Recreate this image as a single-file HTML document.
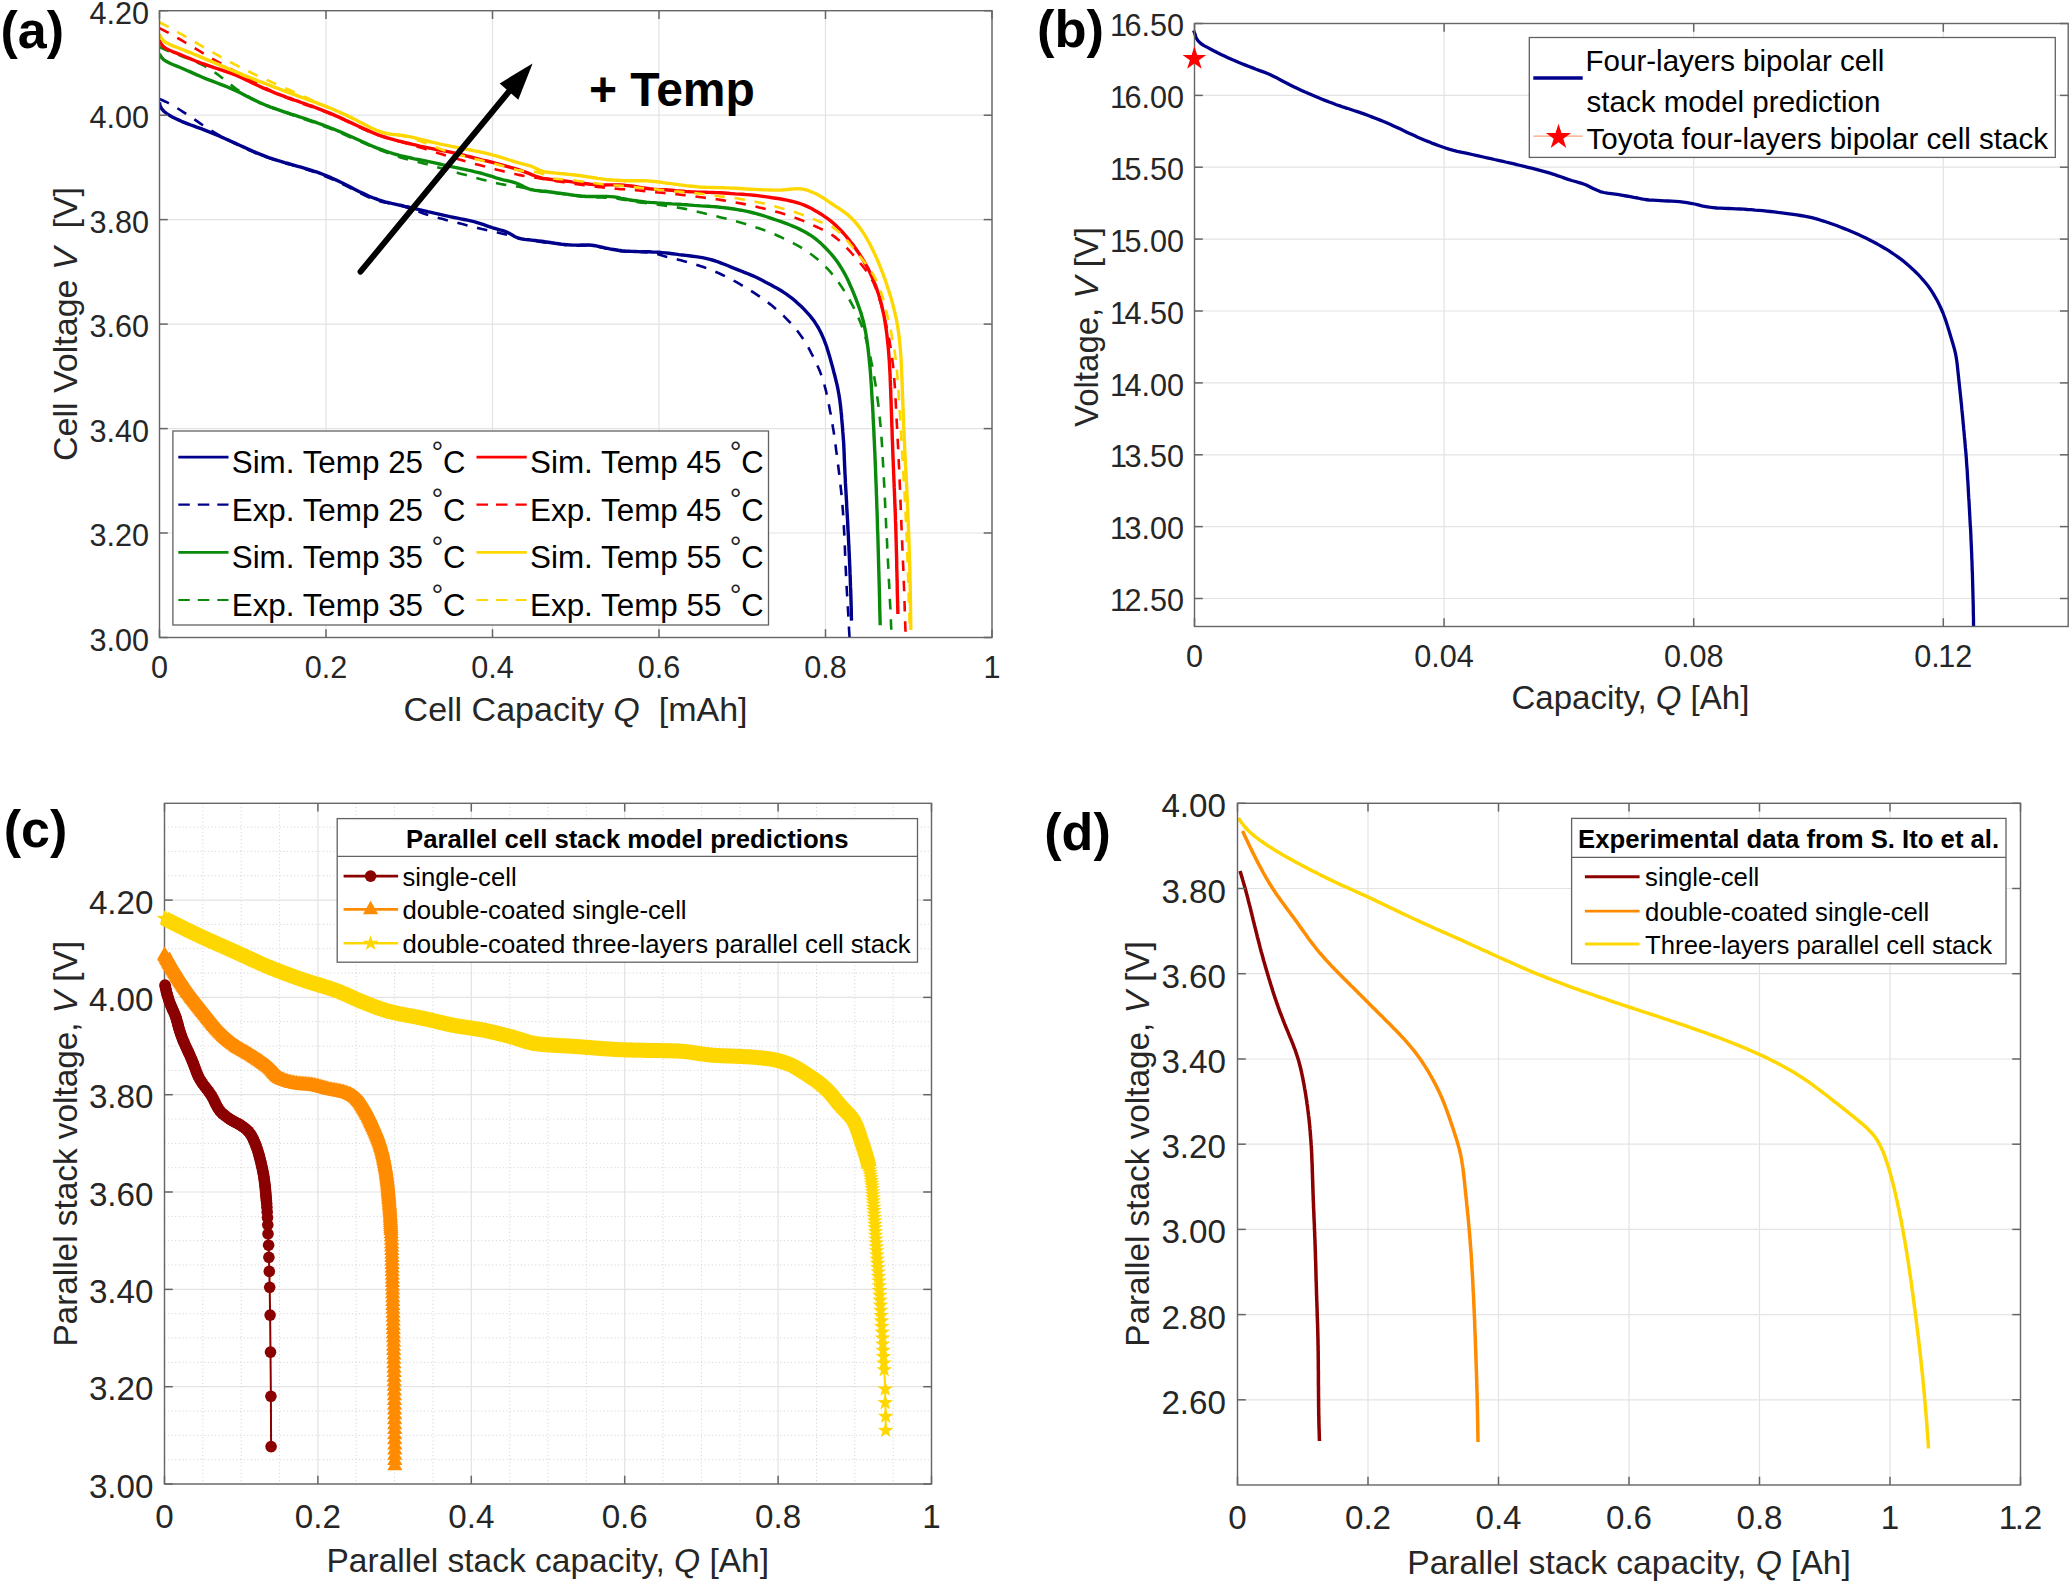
<!DOCTYPE html><html><head><meta charset="utf-8"><title>Figure</title><style>html,body{margin:0;padding:0;background:#fff}svg{display:block}text{font-family:'Liberation Sans', Arial, Helvetica, sans-serif}</style></head><body>
<svg width="2070" height="1584" viewBox="0 0 2070 1584">
<rect width="2070" height="1584" fill="#fff"/>
<rect x="159.5" y="10.7" width="832.5" height="626.8" fill="#fff"/>
<line x1="159.5" y1="10.7" x2="159.5" y2="637.5" stroke="#e3e3e3" stroke-width="1.2"/>
<line x1="326.0" y1="10.7" x2="326.0" y2="637.5" stroke="#e3e3e3" stroke-width="1.2"/>
<line x1="492.5" y1="10.7" x2="492.5" y2="637.5" stroke="#e3e3e3" stroke-width="1.2"/>
<line x1="659.0" y1="10.7" x2="659.0" y2="637.5" stroke="#e3e3e3" stroke-width="1.2"/>
<line x1="825.5" y1="10.7" x2="825.5" y2="637.5" stroke="#e3e3e3" stroke-width="1.2"/>
<line x1="992.0" y1="10.7" x2="992.0" y2="637.5" stroke="#e3e3e3" stroke-width="1.2"/>
<line x1="159.5" y1="10.7" x2="992.0" y2="10.7" stroke="#e3e3e3" stroke-width="1.2"/>
<line x1="159.5" y1="115.2" x2="992.0" y2="115.2" stroke="#e3e3e3" stroke-width="1.2"/>
<line x1="159.5" y1="219.6" x2="992.0" y2="219.6" stroke="#e3e3e3" stroke-width="1.2"/>
<line x1="159.5" y1="324.1" x2="992.0" y2="324.1" stroke="#e3e3e3" stroke-width="1.2"/>
<line x1="159.5" y1="428.6" x2="992.0" y2="428.6" stroke="#e3e3e3" stroke-width="1.2"/>
<line x1="159.5" y1="533.0" x2="992.0" y2="533.0" stroke="#e3e3e3" stroke-width="1.2"/>
<line x1="159.5" y1="637.5" x2="992.0" y2="637.5" stroke="#e3e3e3" stroke-width="1.2"/>
<clipPath id="ca"><rect x="159.5" y="10.7" width="832.5" height="627.8"/></clipPath><g clip-path="url(#ca)">
<path d="M159.4,102.3 L160.1,105.8 L161.6,108.7 L163.8,111.2 L166.4,113.3 L169.3,115.2 L172.3,116.9 L175.4,118.5 L178.4,119.9 L181.5,121.3 L184.7,122.6 L187.8,123.8 L190.9,125.0 L194.1,126.1 L197.2,127.3 L200.4,128.4 L203.5,129.6 L206.6,130.8 L209.8,132.1 L212.9,133.4 L216.0,134.7 L219.1,136.0 L222.2,137.4 L225.3,138.7 L228.4,140.1 L231.5,141.5 L234.5,142.9 L237.6,144.3 L240.7,145.7 L243.8,147.1 L246.9,148.5 L249.9,149.9 L253.0,151.2 L256.1,152.6 L259.2,153.8 L262.4,155.1 L265.5,156.3 L268.7,157.5 L271.9,158.6 L275.0,159.6 L278.3,160.7 L281.5,161.6 L284.7,162.6 L288.0,163.5 L291.2,164.4 L294.5,165.4 L297.7,166.3 L301.0,167.2 L304.2,168.1 L307.5,169.1 L310.7,170.1 L313.9,171.2 L317.1,172.2 L320.3,173.4 L323.4,174.5 L326.6,175.8 L329.7,177.1 L332.7,178.5 L335.8,179.9 L338.8,181.3 L341.9,182.8 L344.9,184.3 L347.9,185.8 L350.9,187.3 L354.0,188.9 L357.0,190.4 L360.0,191.9 L363.1,193.4 L366.1,194.8 L369.2,196.2 L372.3,197.5 L375.5,198.7 L378.6,199.8 L381.8,200.8 L385.1,201.8 L388.4,202.6 L391.6,203.4 L394.9,204.1 L398.2,204.8 L401.5,205.5 L404.8,206.3 L408.1,207.0 L411.4,207.8 L414.7,208.6 L418.0,209.3 L421.3,210.1 L424.5,210.9 L427.8,211.7 L431.1,212.4 L434.4,213.2 L437.7,213.9 L441.0,214.6 L444.3,215.4 L447.6,216.1 L450.9,216.8 L454.2,217.5 L457.5,218.1 L460.8,218.8 L464.1,219.5 L467.4,220.2 L470.7,220.9 L474.0,221.7 L477.2,222.6 L480.5,223.6 L483.7,224.7 L486.8,225.8 L490.0,226.9 L493.2,228.0 L496.5,228.9 L499.8,229.8 L503.0,230.7 L506.2,231.9 L509.2,233.3 L512.2,235.0 L515.1,236.7 L518.1,238.0 L521.4,238.8 L524.8,239.4 L528.2,239.7 L531.6,240.1 L534.9,240.5 L538.3,240.9 L541.6,241.3 L545.0,241.8 L548.3,242.2 L551.6,242.7 L554.9,243.2 L558.3,243.6 L561.6,244.1 L565.0,244.5 L568.3,244.8 L571.7,245.0 L575.1,245.1 L578.5,245.1 L581.8,245.0 L585.2,244.9 L588.6,245.0 L591.9,245.2 L595.2,245.7 L598.5,246.3 L601.8,247.1 L605.1,247.9 L608.5,248.6 L611.8,249.3 L615.1,249.8 L618.4,250.3 L621.8,250.7 L625.1,251.0 L628.5,251.2 L631.9,251.4 L635.2,251.5 L638.6,251.6 L642.0,251.7 L645.4,251.8 L648.7,251.8 L652.1,252.0 L655.5,252.1 L658.9,252.3 L662.2,252.6 L665.6,252.9 L668.9,253.3 L672.3,253.7 L675.6,254.1 L679.0,254.6 L682.3,255.0 L685.7,255.4 L689.0,255.8 L692.4,256.2 L695.7,256.6 L699.1,257.1 L702.4,257.6 L705.7,258.3 L709.0,259.1 L712.2,260.0 L715.5,261.0 L718.7,262.1 L721.8,263.3 L725.0,264.5 L728.1,265.8 L731.2,267.1 L734.3,268.3 L737.5,269.6 L740.6,270.8 L743.7,272.1 L746.9,273.3 L750.0,274.6 L753.1,275.9 L756.2,277.3 L759.2,278.8 L762.2,280.3 L765.2,281.9 L768.2,283.4 L771.2,285.0 L774.1,286.7 L777.1,288.3 L780.0,290.0 L782.9,291.8 L785.7,293.7 L788.4,295.6 L791.1,297.6 L793.8,299.7 L796.3,301.9 L798.8,304.2 L801.3,306.5 L803.7,308.9 L806.0,311.4 L808.3,313.9 L810.5,316.4 L812.6,319.1 L814.6,321.8 L816.4,324.6 L818.2,327.5 L819.8,330.5 L821.3,333.5 L822.7,336.6 L824.0,339.7 L825.2,342.8 L826.4,346.0 L827.4,349.2 L828.4,352.4 L829.4,355.7 L830.3,358.9 L831.2,362.2 L832.1,365.4 L833.0,368.7 L833.8,372.0 L834.7,375.2 L835.5,378.5 L836.3,381.8 L837.1,385.1 L837.8,388.4 L838.4,391.7 L839.0,395.0 L839.5,398.3 L840.0,401.7 L840.4,405.0 L840.8,408.4 L841.1,411.7 L841.5,415.1 L841.7,418.4 L842.0,421.8 L842.3,425.2 L842.6,428.5 L842.8,431.9 L843.1,435.3 L843.3,438.6 L843.6,442.0 L843.8,445.4 L843.9,448.7 L844.1,452.1 L844.2,455.5 L844.3,458.8 L844.5,462.2 L844.6,465.6 L844.8,468.9 L844.9,472.3 L845.1,475.7 L845.3,479.1 L845.4,482.4 L845.6,485.8 L845.8,489.2 L846.0,492.5 L846.2,495.9 L846.4,499.3 L846.6,502.6 L846.7,506.0 L846.9,509.4 L847.1,512.7 L847.3,516.1 L847.5,519.5 L847.7,522.8 L847.8,526.2 L848.0,529.6 L848.2,533.0 L848.4,536.3 L848.5,539.7 L848.7,543.1 L848.9,546.4 L849.0,549.8 L849.2,553.2 L849.3,556.5 L849.5,559.9 L849.6,563.3 L849.8,566.7 L849.9,570.0 L850.0,573.4 L850.2,576.8 L850.3,580.1 L850.4,583.5 L850.5,586.9 L850.7,590.2 L850.8,593.6 L850.9,597.0 L851.0,600.4 L851.1,603.7 L851.2,607.1 L851.3,610.5 L851.3,613.9 L851.4,617.2 L851.5,620.6" fill="none" stroke="#00008B" stroke-width="3.4" stroke-linejoin="round" stroke-linecap="butt" />
<path d="M159.4,98.9 L162.5,100.3 L165.6,101.7 L168.6,103.2 L171.5,104.8 L174.5,106.5 L177.3,108.2 L180.2,110.0 L183.0,111.8 L185.8,113.7 L188.6,115.5 L191.4,117.4 L194.2,119.3 L197.0,121.2 L199.8,123.1 L202.6,125.0 L205.4,126.8 L208.2,128.7 L211.1,130.4 L213.9,132.2 L216.8,133.9 L219.8,135.6 L222.7,137.2 L225.7,138.8 L228.6,140.4 L231.6,141.9 L234.6,143.4 L237.7,144.9 L240.7,146.4 L243.8,147.8 L246.8,149.2 L249.9,150.6 L253.0,151.9 L256.1,153.2 L259.2,154.5 L262.4,155.7 L265.5,156.9 L268.7,158.0 L271.9,159.1 L275.1,160.1 L278.3,161.1 L281.5,162.0 L284.7,163.0 L288.0,163.9 L291.2,164.8 L294.5,165.7 L297.7,166.7 L300.9,167.6 L304.1,168.6 L307.3,169.7 L310.5,170.7 L313.7,171.8 L316.9,173.0 L320.0,174.2 L323.2,175.4 L326.3,176.7 L329.4,178.0 L332.4,179.4 L335.5,180.8 L338.5,182.2 L341.6,183.6 L344.6,185.1 L347.6,186.6 L350.6,188.2 L353.6,189.7 L356.6,191.2 L359.6,192.8 L362.7,194.3 L365.7,195.8 L368.8,197.2 L371.9,198.5 L375.0,199.7 L378.2,200.7 L381.4,201.7 L384.7,202.4 L388.0,203.1 L391.3,203.7 L394.6,204.3 L397.9,205.0 L401.2,205.8 L404.4,206.7 L407.6,207.7 L410.8,208.8 L414.0,210.0 L417.1,211.2 L420.3,212.3 L423.5,213.5 L426.7,214.6 L429.9,215.6 L433.1,216.5 L436.4,217.4 L439.6,218.3 L442.9,219.1 L446.1,220.0 L449.4,220.8 L452.7,221.6 L455.9,222.4 L459.2,223.3 L462.4,224.1 L465.7,224.9 L469.0,225.8 L472.2,226.6 L475.5,227.5 L478.7,228.3 L482.0,229.1 L485.3,229.8 L488.6,230.5 L491.9,231.2 L495.2,231.9 L498.4,232.7 L501.7,233.5 L505.0,234.3 L508.2,235.2 L511.4,236.2 L514.7,237.1 L517.9,238.0 L521.2,238.7 L524.5,239.4 L527.8,240.0 L531.1,240.6 L534.5,241.1 L537.8,241.5 L541.1,242.0 L544.5,242.4 L547.8,242.8 L551.2,243.2 L554.5,243.6 L557.8,244.0 L561.2,244.5 L564.5,244.9 L567.9,245.3 L571.2,245.5 L574.6,245.6 L578.0,245.6 L581.3,245.5 L584.7,245.4 L588.1,245.4 L591.4,245.7 L594.7,246.1 L598.0,246.7 L601.3,247.5 L604.6,248.2 L607.9,249.0 L611.2,249.7 L614.5,250.3 L617.9,250.8 L621.2,251.2 L624.6,251.5 L627.9,251.6 L631.3,251.7 L634.7,251.8 L638.1,251.8 L641.4,251.9 L644.8,252.1 L648.1,252.4 L651.4,252.9 L654.7,253.5 L658.0,254.3 L661.2,255.2 L664.5,256.2 L667.7,257.1 L671.0,257.9 L674.3,258.7 L677.5,259.5 L680.8,260.3 L684.1,261.2 L687.3,262.0 L690.6,262.9 L693.8,263.9 L697.0,264.9 L700.2,265.9 L703.4,267.0 L706.5,268.2 L709.7,269.4 L712.8,270.7 L715.9,272.0 L719.0,273.3 L722.0,274.7 L725.1,276.2 L728.1,277.7 L731.1,279.2 L734.1,280.8 L737.0,282.4 L739.9,284.1 L742.8,285.8 L745.7,287.5 L748.6,289.3 L751.4,291.1 L754.2,292.9 L757.1,294.8 L759.9,296.7 L762.6,298.6 L765.4,300.6 L768.1,302.6 L770.7,304.6 L773.3,306.7 L775.9,308.9 L778.4,311.1 L780.9,313.4 L783.4,315.7 L785.8,318.1 L788.1,320.5 L790.5,322.9 L792.7,325.4 L794.9,328.0 L797.1,330.6 L799.1,333.3 L801.1,336.0 L803.0,338.7 L804.8,341.6 L806.6,344.4 L808.3,347.4 L809.9,350.3 L811.4,353.3 L813.0,356.3 L814.5,359.3 L815.9,362.4 L817.3,365.4 L818.7,368.5 L820.0,371.6 L821.2,374.8 L822.3,378.0 L823.3,381.2 L824.3,384.4 L825.1,387.6 L826.0,390.9 L826.7,394.2 L827.5,397.5 L828.1,400.8 L828.8,404.1 L829.4,407.4 L830.0,410.7 L830.7,414.0 L831.2,417.3 L831.8,420.6 L832.4,423.9 L832.9,427.3 L833.5,430.6 L834.0,433.9 L834.4,437.2 L834.9,440.6 L835.4,443.9 L835.8,447.2 L836.2,450.6 L836.7,453.9 L837.1,457.3 L837.5,460.6 L837.9,463.9 L838.4,467.3 L838.8,470.6 L839.2,474.0 L839.6,477.3 L840.0,480.6 L840.4,484.0 L840.7,487.3 L841.1,490.7 L841.4,494.0 L841.8,497.4 L842.1,500.7 L842.4,504.1 L842.6,507.4 L842.9,510.8 L843.1,514.1 L843.4,517.5 L843.6,520.9 L843.8,524.2 L843.9,527.6 L844.1,530.9 L844.3,534.3 L844.4,537.7 L844.6,541.0 L844.7,544.4 L844.9,547.8 L845.0,551.1 L845.1,554.5 L845.3,557.8 L845.4,561.2 L845.6,564.6 L845.7,567.9 L845.9,571.3 L846.0,574.7 L846.2,578.0 L846.4,581.4 L846.5,584.7 L846.7,588.1 L846.9,591.5 L847.1,594.8 L847.3,598.2 L847.5,601.5 L847.7,604.9 L847.9,608.3 L848.1,611.6 L848.3,615.0 L848.5,618.3 L848.7,621.7 L848.9,625.1 L849.0,628.4 L849.2,631.8 L849.4,635.1 L849.6,638.5" fill="none" stroke="#00008B" stroke-width="2.6" stroke-linejoin="round" stroke-linecap="butt" stroke-dasharray="10.5 9.8" />
<path d="M159.4,53.7 L161.2,57.0 L163.6,59.6 L166.6,61.6 L169.9,63.3 L173.3,64.7 L176.8,66.1 L180.2,67.5 L183.6,69.0 L187.0,70.5 L190.3,71.9 L193.6,73.4 L196.9,74.9 L200.2,76.3 L203.5,77.7 L206.9,79.1 L210.3,80.4 L213.7,81.7 L217.1,83.0 L220.6,84.3 L224.0,85.6 L227.4,87.0 L230.7,88.4 L234.1,89.9 L237.4,91.4 L240.7,93.0 L243.9,94.7 L247.2,96.4 L250.4,98.1 L253.7,99.7 L256.9,101.3 L260.2,102.9 L263.6,104.3 L267.0,105.7 L270.4,107.0 L273.8,108.2 L277.2,109.4 L280.7,110.6 L284.2,111.8 L287.7,112.9 L291.1,114.1 L294.6,115.2 L298.1,116.3 L301.5,117.5 L305.0,118.7 L308.4,119.8 L311.9,121.0 L315.3,122.2 L318.8,123.5 L322.2,124.7 L325.6,126.0 L329.0,127.3 L332.4,128.7 L335.8,130.0 L339.2,131.4 L342.5,132.8 L345.9,134.3 L349.2,135.7 L352.6,137.2 L355.9,138.7 L359.2,140.2 L362.6,141.7 L365.9,143.2 L369.2,144.7 L372.6,146.2 L375.9,147.6 L379.3,148.9 L382.8,150.2 L386.2,151.4 L389.7,152.5 L393.2,153.6 L396.7,154.6 L400.2,155.6 L403.7,156.4 L407.3,157.2 L410.9,158.0 L414.4,158.8 L418.0,159.5 L421.6,160.2 L425.2,160.9 L428.8,161.7 L432.3,162.4 L435.9,163.2 L439.5,164.0 L443.0,164.8 L446.6,165.6 L450.1,166.4 L453.7,167.1 L457.3,167.9 L460.9,168.7 L464.4,169.4 L468.0,170.2 L471.6,170.9 L475.1,171.8 L478.7,172.6 L482.2,173.5 L485.7,174.6 L489.2,175.6 L492.7,176.7 L496.1,177.9 L499.6,178.9 L503.2,179.9 L506.8,180.7 L510.3,181.4 L513.9,182.3 L517.3,183.5 L520.7,185.0 L523.9,186.7 L527.2,188.3 L530.6,189.5 L534.2,190.2 L537.8,190.6 L541.5,191.0 L545.1,191.3 L548.7,191.8 L552.4,192.2 L556.0,192.7 L559.6,193.1 L563.2,193.6 L566.8,194.1 L570.5,194.7 L574.1,195.2 L577.7,195.6 L581.3,196.0 L585.0,196.3 L588.6,196.5 L592.3,196.5 L595.9,196.5 L599.6,196.5 L603.2,196.4 L606.9,196.4 L610.5,196.6 L614.2,196.9 L617.7,197.5 L621.3,198.3 L624.9,199.0 L628.5,199.7 L632.1,200.3 L635.7,200.8 L639.3,201.3 L643.0,201.7 L646.6,202.1 L650.2,202.4 L653.9,202.6 L657.5,202.9 L661.2,203.1 L664.8,203.4 L668.4,203.6 L672.1,203.9 L675.7,204.1 L679.4,204.3 L683.0,204.6 L686.7,204.8 L690.3,205.1 L693.9,205.4 L697.6,205.6 L701.2,205.9 L704.9,206.1 L708.5,206.3 L712.1,206.6 L715.8,206.8 L719.4,207.2 L723.0,207.6 L726.7,208.0 L730.3,208.5 L733.9,209.0 L737.5,209.6 L741.1,210.2 L744.7,210.9 L748.3,211.6 L751.8,212.5 L755.4,213.4 L758.9,214.4 L762.4,215.4 L765.9,216.5 L769.3,217.6 L772.8,218.8 L776.2,220.0 L779.7,221.2 L783.1,222.4 L786.6,223.7 L790.0,225.0 L793.3,226.4 L796.7,227.8 L800.0,229.4 L803.2,231.0 L806.4,232.8 L809.6,234.7 L812.6,236.7 L815.6,238.9 L818.4,241.2 L821.1,243.6 L823.8,246.2 L826.3,248.8 L828.8,251.4 L831.3,254.1 L833.6,256.9 L835.8,259.8 L838.0,262.8 L840.0,265.8 L841.9,268.9 L843.8,272.1 L845.5,275.3 L847.2,278.5 L848.7,281.8 L850.2,285.2 L851.7,288.5 L853.1,291.9 L854.5,295.3 L855.8,298.7 L857.1,302.1 L858.4,305.6 L859.6,309.0 L860.8,312.5 L861.8,316.0 L862.8,319.5 L863.7,323.0 L864.5,326.6 L865.2,330.1 L865.9,333.7 L866.5,337.4 L867.0,341.0 L867.5,344.6 L868.0,348.2 L868.4,351.8 L868.8,355.5 L869.2,359.1 L869.5,362.7 L869.9,366.4 L870.2,370.0 L870.5,373.6 L870.8,377.3 L871.0,380.9 L871.3,384.6 L871.5,388.2 L871.7,391.9 L871.9,395.5 L872.1,399.1 L872.4,402.8 L872.6,406.4 L872.8,410.1 L873.0,413.7 L873.1,417.4 L873.3,421.0 L873.5,424.7 L873.7,428.3 L873.9,432.0 L874.0,435.6 L874.2,439.2 L874.4,442.9 L874.5,446.5 L874.7,450.2 L874.9,453.8 L875.0,457.5 L875.2,461.1 L875.3,464.8 L875.5,468.4 L875.6,472.1 L875.7,475.7 L875.9,479.4 L876.0,483.0 L876.2,486.7 L876.3,490.3 L876.4,494.0 L876.6,497.6 L876.7,501.2 L876.8,504.9 L876.9,508.5 L877.1,512.2 L877.2,515.8 L877.3,519.5 L877.4,523.1 L877.5,526.8 L877.6,530.4 L877.8,534.1 L877.9,537.7 L878.0,541.4 L878.1,545.0 L878.2,548.7 L878.3,552.3 L878.4,556.0 L878.5,559.6 L878.6,563.3 L878.7,566.9 L878.8,570.6 L878.9,574.2 L879.0,577.9 L879.1,581.5 L879.2,585.2 L879.3,588.8 L879.4,592.5 L879.5,596.1 L879.6,599.8 L879.6,603.4 L879.7,607.1 L879.8,610.7 L879.9,614.4 L880.0,618.0 L880.1,621.7 L880.2,625.3" fill="none" stroke="#0A8A0A" stroke-width="3.4" stroke-linejoin="round" stroke-linecap="butt" />
<path d="M159.4,47.0 L162.7,48.5 L166.0,50.0 L169.4,51.4 L172.8,52.7 L176.2,54.0 L179.7,55.3 L183.1,56.7 L186.6,58.0 L190.0,59.4 L193.4,60.8 L196.8,62.2 L200.1,63.8 L203.4,65.4 L206.6,67.2 L209.7,69.0 L212.8,71.0 L215.8,73.1 L218.7,75.2 L221.6,77.5 L224.5,79.7 L227.4,82.0 L230.3,84.3 L233.2,86.5 L236.1,88.7 L239.1,90.8 L242.2,92.8 L245.3,94.8 L248.5,96.7 L251.6,98.5 L254.9,100.2 L258.1,101.8 L261.5,103.4 L264.8,104.9 L268.2,106.3 L271.6,107.7 L275.0,109.0 L278.4,110.2 L281.9,111.4 L285.4,112.6 L288.8,113.8 L292.3,115.0 L295.8,116.2 L299.2,117.4 L302.7,118.6 L306.2,119.8 L309.6,121.0 L313.1,122.2 L316.5,123.4 L320.0,124.7 L323.4,126.0 L326.8,127.3 L330.2,128.6 L333.6,130.0 L337.0,131.4 L340.4,132.8 L343.7,134.3 L347.1,135.7 L350.4,137.2 L353.8,138.6 L357.1,140.1 L360.5,141.6 L363.8,143.1 L367.2,144.5 L370.6,146.0 L373.9,147.4 L377.3,148.8 L380.7,150.2 L384.1,151.6 L387.5,152.9 L390.9,154.2 L394.4,155.5 L397.9,156.6 L401.4,157.7 L404.9,158.7 L408.4,159.7 L412.0,160.6 L415.5,161.5 L419.1,162.3 L422.6,163.2 L426.2,164.1 L429.7,165.1 L433.2,166.1 L436.8,167.1 L440.3,168.1 L443.8,169.0 L447.3,170.0 L450.9,171.0 L454.4,171.9 L457.9,172.9 L461.5,173.9 L465.0,174.8 L468.5,175.8 L472.1,176.8 L475.6,177.7 L479.1,178.7 L482.7,179.7 L486.2,180.6 L489.7,181.5 L493.3,182.4 L496.9,183.2 L500.5,184.0 L504.1,184.6 L507.7,185.1 L511.3,185.7 L514.9,186.2 L518.5,186.7 L522.1,187.4 L525.7,188.1 L529.3,189.0 L532.9,189.8 L536.5,190.5 L540.1,191.2 L543.7,191.7 L547.3,192.1 L551.0,192.5 L554.6,192.9 L558.2,193.4 L561.9,193.9 L565.5,194.4 L569.1,195.0 L572.7,195.5 L576.4,195.9 L580.0,196.4 L583.6,196.7 L587.3,197.0 L590.9,197.2 L594.6,197.4 L598.3,197.5 L601.9,197.5 L605.6,197.6 L609.3,197.7 L612.9,198.0 L616.5,198.5 L620.1,199.1 L623.7,199.8 L627.4,200.4 L631.0,201.0 L634.6,201.6 L638.2,202.1 L641.8,202.6 L645.5,203.0 L649.1,203.5 L652.7,204.0 L656.4,204.4 L660.0,204.9 L663.6,205.4 L667.3,205.9 L670.9,206.4 L674.5,207.0 L678.1,207.6 L681.7,208.2 L685.3,208.9 L688.9,209.7 L692.5,210.5 L696.0,211.3 L699.6,212.2 L703.1,213.1 L706.7,213.9 L710.2,214.8 L713.8,215.7 L717.4,216.6 L720.9,217.4 L724.5,218.3 L728.0,219.2 L731.6,220.1 L735.1,221.0 L738.6,222.0 L742.2,223.0 L745.7,224.1 L749.2,225.2 L752.7,226.3 L756.1,227.4 L759.6,228.6 L763.1,229.8 L766.5,231.0 L769.9,232.4 L773.3,233.7 L776.7,235.2 L780.0,236.7 L783.3,238.3 L786.6,239.9 L789.9,241.5 L793.2,243.2 L796.4,244.9 L799.6,246.7 L802.7,248.6 L805.8,250.5 L808.8,252.6 L811.8,254.8 L814.7,257.0 L817.5,259.3 L820.3,261.7 L823.0,264.2 L825.6,266.8 L828.1,269.4 L830.6,272.2 L832.9,275.0 L835.2,277.8 L837.4,280.8 L839.5,283.8 L841.6,286.8 L843.6,289.9 L845.5,293.0 L847.4,296.2 L849.2,299.3 L851.0,302.5 L852.8,305.8 L854.4,309.1 L856.0,312.4 L857.5,315.7 L859.0,319.0 L860.4,322.4 L861.7,325.8 L862.9,329.3 L864.1,332.8 L865.2,336.3 L866.2,339.8 L867.1,343.3 L868.0,346.9 L868.9,350.4 L869.7,354.0 L870.5,357.6 L871.2,361.2 L872.0,364.8 L872.7,368.4 L873.3,372.0 L874.0,375.6 L874.6,379.2 L875.2,382.8 L875.8,386.5 L876.3,390.1 L876.8,393.7 L877.3,397.3 L877.8,401.0 L878.3,404.6 L878.7,408.2 L879.1,411.9 L879.5,415.5 L879.9,419.1 L880.2,422.8 L880.6,426.4 L880.9,430.1 L881.2,433.7 L881.5,437.4 L881.7,441.0 L882.0,444.7 L882.2,448.3 L882.4,452.0 L882.6,455.6 L882.8,459.3 L883.0,463.0 L883.2,466.6 L883.4,470.3 L883.6,473.9 L883.8,477.6 L884.0,481.3 L884.2,484.9 L884.4,488.6 L884.5,492.2 L884.7,495.9 L884.9,499.5 L885.1,503.2 L885.2,506.9 L885.4,510.5 L885.6,514.2 L885.8,517.8 L886.0,521.5 L886.1,525.1 L886.3,528.8 L886.5,532.5 L886.7,536.1 L886.9,539.8 L887.1,543.4 L887.2,547.1 L887.4,550.7 L887.6,554.4 L887.8,558.0 L888.0,561.7 L888.2,565.4 L888.4,569.0 L888.6,572.7 L888.8,576.3 L888.9,580.0 L889.1,583.6 L889.3,587.3 L889.5,591.0 L889.7,594.6 L889.8,598.3 L890.0,601.9 L890.2,605.6 L890.4,609.2 L890.5,612.9 L890.7,616.6 L890.9,620.2 L891.0,623.9 L891.2,627.5 L891.4,631.2 L891.6,634.8 L891.8,638.5" fill="none" stroke="#0A8A0A" stroke-width="2.6" stroke-linejoin="round" stroke-linecap="butt" stroke-dasharray="10.5 9.8" />
<path d="M159.4,40.1 L160.9,43.7 L163.2,46.4 L166.1,48.6 L169.5,50.3 L173.0,51.8 L176.6,53.2 L180.2,54.6 L183.6,56.0 L187.1,57.5 L190.5,58.9 L193.9,60.3 L197.3,61.7 L200.8,63.0 L204.2,64.2 L207.7,65.4 L211.3,66.6 L214.8,67.8 L218.3,69.0 L221.9,70.1 L225.4,71.3 L229.0,72.6 L232.5,73.9 L235.9,75.3 L239.3,76.8 L242.7,78.3 L246.1,79.9 L249.5,81.5 L252.8,83.1 L256.2,84.7 L259.5,86.3 L262.9,87.9 L266.4,89.4 L269.8,90.8 L273.2,92.2 L276.7,93.6 L280.2,94.9 L283.7,96.2 L287.2,97.5 L290.7,98.7 L294.2,100.0 L297.7,101.2 L301.2,102.5 L304.7,103.7 L308.3,105.0 L311.8,106.2 L315.3,107.5 L318.7,108.8 L322.2,110.2 L325.7,111.5 L329.1,112.9 L332.6,114.4 L336.0,115.9 L339.4,117.4 L342.8,118.9 L346.2,120.5 L349.5,122.0 L352.9,123.6 L356.3,125.2 L359.7,126.8 L363.1,128.4 L366.5,129.9 L369.9,131.4 L373.3,132.9 L376.8,134.3 L380.2,135.5 L383.8,136.7 L387.3,137.8 L390.9,138.9 L394.5,139.9 L398.1,140.8 L401.7,141.7 L405.3,142.6 L409.0,143.5 L412.6,144.4 L416.2,145.2 L419.8,146.1 L423.5,146.9 L427.1,147.6 L430.8,148.4 L434.4,149.1 L438.1,149.8 L441.8,150.5 L445.4,151.2 L449.1,151.9 L452.7,152.7 L456.3,153.5 L460.0,154.3 L463.6,155.2 L467.2,156.1 L470.8,157.0 L474.4,158.0 L478.1,158.9 L481.7,159.8 L485.3,160.6 L488.9,161.5 L492.5,162.4 L496.1,163.4 L499.7,164.3 L503.3,165.3 L506.9,166.3 L510.5,167.3 L514.1,168.3 L517.6,169.4 L521.2,170.6 L524.7,171.8 L528.2,173.2 L531.6,174.6 L535.1,176.0 L538.6,177.2 L542.2,178.1 L545.9,178.8 L549.6,179.3 L553.3,179.8 L557.0,180.2 L560.7,180.6 L564.4,181.0 L568.1,181.4 L571.8,181.9 L575.5,182.3 L579.2,182.8 L582.9,183.3 L586.6,183.7 L590.3,184.2 L594.0,184.6 L597.7,184.8 L601.4,185.0 L605.1,185.0 L608.9,184.9 L612.6,184.9 L616.3,184.9 L620.1,185.0 L623.8,185.3 L627.5,185.6 L631.2,186.0 L634.9,186.5 L638.6,187.1 L642.3,187.7 L645.9,188.2 L649.6,188.7 L653.3,189.1 L657.0,189.4 L660.8,189.6 L664.5,189.8 L668.2,190.0 L671.9,190.3 L675.6,190.7 L679.3,191.0 L683.1,191.3 L686.8,191.6 L690.5,191.8 L694.2,191.9 L697.9,192.1 L701.7,192.2 L705.4,192.3 L709.1,192.4 L712.8,192.5 L716.6,192.6 L720.3,192.8 L724.0,193.0 L727.7,193.3 L731.4,193.6 L735.1,193.9 L738.9,194.1 L742.6,194.3 L746.3,194.6 L750.0,194.9 L753.7,195.2 L757.4,195.6 L761.1,196.1 L764.8,196.6 L768.5,197.1 L772.2,197.7 L775.9,198.2 L779.5,198.8 L783.2,199.5 L786.9,200.2 L790.5,201.0 L794.2,201.8 L797.8,202.9 L801.3,204.0 L804.8,205.4 L808.2,206.9 L811.5,208.6 L814.7,210.4 L818.0,212.3 L821.2,214.2 L824.3,216.3 L827.3,218.4 L830.3,220.6 L833.2,223.0 L835.9,225.5 L838.6,228.1 L841.2,230.8 L843.7,233.5 L846.2,236.4 L848.6,239.3 L850.9,242.2 L853.2,245.1 L855.4,248.2 L857.5,251.2 L859.6,254.3 L861.6,257.4 L863.6,260.6 L865.4,263.9 L867.2,267.1 L868.9,270.4 L870.5,273.8 L872.1,277.2 L873.6,280.6 L875.0,284.1 L876.3,287.6 L877.5,291.1 L878.7,294.7 L879.7,298.2 L880.7,301.8 L881.7,305.4 L882.5,309.1 L883.3,312.7 L884.1,316.4 L884.7,320.0 L885.3,323.7 L885.9,327.4 L886.4,331.1 L886.9,334.8 L887.3,338.5 L887.7,342.2 L888.1,345.9 L888.4,349.7 L888.7,353.4 L889.0,357.1 L889.3,360.8 L889.5,364.5 L889.7,368.2 L889.9,372.0 L890.1,375.7 L890.2,379.4 L890.4,383.1 L890.5,386.9 L890.7,390.6 L890.8,394.3 L890.9,398.0 L891.1,401.7 L891.2,405.5 L891.3,409.2 L891.5,412.9 L891.6,416.6 L891.7,420.4 L891.8,424.1 L892.0,427.8 L892.1,431.5 L892.2,435.3 L892.3,439.0 L892.5,442.7 L892.6,446.4 L892.7,450.2 L892.9,453.9 L893.0,457.6 L893.2,461.3 L893.3,465.0 L893.5,468.8 L893.6,472.5 L893.8,476.2 L893.9,479.9 L894.1,483.7 L894.2,487.4 L894.4,491.1 L894.5,494.8 L894.7,498.5 L894.8,502.3 L895.0,506.0 L895.1,509.7 L895.3,513.4 L895.4,517.2 L895.5,520.9 L895.7,524.6 L895.8,528.3 L895.9,532.1 L896.0,535.8 L896.1,539.5 L896.2,543.2 L896.3,547.0 L896.4,550.7 L896.5,554.4 L896.6,558.1 L896.7,561.9 L896.7,565.6 L896.8,569.3 L896.9,573.0 L897.0,576.8 L897.1,580.5 L897.2,584.2 L897.2,587.9 L897.3,591.7 L897.4,595.4 L897.5,599.1 L897.6,602.8 L897.7,606.6 L897.8,610.3 L897.9,614.0" fill="none" stroke="#FF0000" stroke-width="3.4" stroke-linejoin="round" stroke-linecap="butt" />
<path d="M159.4,28.1 L162.8,29.8 L166.1,31.6 L169.5,33.4 L172.8,35.2 L176.1,37.1 L179.4,39.0 L182.6,40.9 L185.9,42.9 L189.1,44.8 L192.4,46.8 L195.6,48.7 L198.9,50.7 L202.1,52.6 L205.4,54.5 L208.7,56.5 L211.9,58.4 L215.2,60.3 L218.5,62.2 L221.8,64.0 L225.1,65.9 L228.4,67.8 L231.7,69.6 L235.0,71.5 L238.3,73.3 L241.6,75.2 L244.9,77.0 L248.3,78.8 L251.6,80.6 L254.9,82.4 L258.3,84.2 L261.6,86.0 L265.0,87.7 L268.4,89.4 L271.8,91.1 L275.2,92.8 L278.6,94.3 L282.1,95.9 L285.6,97.4 L289.1,98.8 L292.6,100.1 L296.2,101.5 L299.8,102.7 L303.3,104.0 L306.9,105.3 L310.5,106.5 L314.1,107.7 L317.7,109.0 L321.2,110.3 L324.8,111.7 L328.3,113.1 L331.8,114.5 L335.2,116.0 L338.7,117.6 L342.2,119.1 L345.6,120.7 L349.0,122.3 L352.5,124.0 L355.9,125.6 L359.3,127.2 L362.7,128.9 L366.2,130.4 L369.7,132.0 L373.2,133.4 L376.7,134.8 L380.3,136.1 L383.9,137.2 L387.5,138.3 L391.2,139.3 L394.8,140.2 L398.5,141.2 L402.2,142.2 L405.8,143.2 L409.5,144.2 L413.1,145.3 L416.7,146.4 L420.4,147.5 L424.0,148.6 L427.6,149.7 L431.2,150.9 L434.8,152.0 L438.4,153.2 L442.0,154.3 L445.7,155.5 L449.3,156.6 L452.9,157.7 L456.5,158.7 L460.2,159.8 L463.8,160.8 L467.5,161.9 L471.1,162.9 L474.8,163.9 L478.4,164.8 L482.1,165.8 L485.8,166.8 L489.4,167.8 L493.1,168.7 L496.8,169.7 L500.4,170.6 L504.1,171.5 L507.8,172.4 L511.5,173.3 L515.2,174.1 L518.9,174.9 L522.6,175.6 L526.4,176.2 L530.1,176.8 L533.9,177.4 L537.6,178.0 L541.3,178.6 L545.1,179.2 L548.8,179.9 L552.5,180.5 L556.3,181.1 L560.0,181.7 L563.8,182.3 L567.5,182.8 L571.3,183.4 L575.0,183.9 L578.8,184.4 L582.5,184.9 L586.3,185.4 L590.0,185.9 L593.8,186.4 L597.6,186.9 L601.3,187.3 L605.1,187.8 L608.9,188.1 L612.6,188.5 L616.4,188.8 L620.2,189.1 L624.0,189.3 L627.8,189.6 L631.5,189.9 L635.3,190.2 L639.1,190.5 L642.9,190.9 L646.6,191.3 L650.4,191.7 L654.2,192.1 L657.9,192.5 L661.7,192.8 L665.5,193.2 L669.3,193.6 L673.0,193.9 L676.8,194.3 L680.6,194.7 L684.3,195.1 L688.1,195.5 L691.9,196.0 L695.6,196.5 L699.4,197.0 L703.1,197.5 L706.9,198.0 L710.7,198.5 L714.4,199.0 L718.2,199.5 L721.9,200.1 L725.6,200.7 L729.4,201.4 L733.1,202.0 L736.8,202.7 L740.6,203.4 L744.3,204.1 L748.0,204.9 L751.7,205.7 L755.4,206.5 L759.1,207.4 L762.8,208.3 L766.4,209.2 L770.1,210.2 L773.8,211.1 L777.4,212.1 L781.1,213.1 L784.7,214.2 L788.3,215.4 L791.9,216.6 L795.5,217.9 L799.0,219.2 L802.6,220.6 L806.0,222.1 L809.5,223.6 L813.0,225.2 L816.4,226.8 L819.8,228.4 L823.3,230.0 L826.7,231.7 L829.9,233.6 L833.1,235.6 L836.1,237.9 L839.0,240.3 L841.8,242.9 L844.5,245.5 L847.2,248.3 L849.8,251.1 L852.4,254.0 L854.9,256.9 L857.4,259.8 L859.9,262.8 L862.3,265.7 L864.7,268.7 L866.9,271.7 L869.0,274.8 L871.0,278.0 L872.8,281.3 L874.4,284.7 L875.8,288.2 L877.2,291.8 L878.4,295.4 L879.5,299.0 L880.6,302.7 L881.6,306.4 L882.6,310.1 L883.5,313.8 L884.4,317.5 L885.3,321.2 L886.2,324.9 L887.0,328.6 L887.8,332.3 L888.5,336.0 L889.3,339.7 L889.9,343.4 L890.6,347.2 L891.1,350.9 L891.7,354.6 L892.2,358.4 L892.6,362.1 L893.1,365.9 L893.4,369.7 L893.8,373.4 L894.1,377.2 L894.4,381.0 L894.7,384.8 L895.0,388.6 L895.2,392.3 L895.4,396.1 L895.6,399.9 L895.8,403.7 L896.0,407.5 L896.2,411.3 L896.4,415.1 L896.6,418.9 L896.8,422.7 L897.0,426.5 L897.2,430.3 L897.4,434.0 L897.6,437.8 L897.8,441.6 L898.0,445.4 L898.2,449.2 L898.3,453.0 L898.5,456.7 L898.7,460.5 L898.9,464.3 L899.1,468.1 L899.2,471.9 L899.4,475.7 L899.6,479.4 L899.7,483.2 L899.9,487.0 L900.1,490.8 L900.2,494.6 L900.4,498.4 L900.5,502.2 L900.7,506.0 L900.8,509.7 L901.0,513.5 L901.1,517.3 L901.3,521.1 L901.4,524.9 L901.6,528.7 L901.8,532.5 L901.9,536.2 L902.1,540.0 L902.2,543.8 L902.4,547.6 L902.5,551.4 L902.7,555.2 L902.9,559.0 L903.0,562.8 L903.2,566.5 L903.3,570.3 L903.5,574.1 L903.6,577.9 L903.8,581.7 L903.9,585.5 L904.1,589.3 L904.2,593.1 L904.3,596.8 L904.5,600.6 L904.6,604.4 L904.7,608.2 L904.8,612.0 L904.9,615.8 L905.1,619.6 L905.2,623.4 L905.3,627.1 L905.5,630.9 L905.6,634.7 L905.8,638.5" fill="none" stroke="#FF0000" stroke-width="2.6" stroke-linejoin="round" stroke-linecap="butt" stroke-dasharray="10.5 9.8" />
<path d="M159.4,34.1 L161.0,37.7 L163.4,40.6 L166.4,42.8 L169.9,44.6 L173.6,46.1 L177.3,47.5 L181.0,49.0 L184.6,50.4 L188.1,51.8 L191.7,53.2 L195.2,54.7 L198.7,56.1 L202.2,57.6 L205.8,59.1 L209.3,60.6 L212.8,62.1 L216.4,63.6 L219.9,65.1 L223.5,66.6 L227.0,68.1 L230.6,69.7 L234.1,71.2 L237.7,72.6 L241.3,74.1 L244.8,75.6 L248.4,77.0 L252.0,78.4 L255.6,79.9 L259.1,81.3 L262.7,82.7 L266.3,84.0 L269.9,85.4 L273.5,86.8 L277.1,88.2 L280.7,89.5 L284.3,90.9 L287.9,92.3 L291.5,93.6 L295.1,94.9 L298.7,96.3 L302.4,97.6 L306.0,98.9 L309.6,100.3 L313.2,101.6 L316.8,102.9 L320.4,104.3 L324.0,105.7 L327.6,107.1 L331.1,108.5 L334.7,110.0 L338.2,111.5 L341.7,113.1 L345.2,114.7 L348.7,116.4 L352.2,118.1 L355.6,119.8 L359.1,121.7 L362.6,123.5 L366.0,125.3 L369.5,127.1 L373.0,128.7 L376.6,130.2 L380.1,131.6 L383.8,132.7 L387.5,133.6 L391.3,134.2 L395.1,134.6 L399.0,135.0 L402.8,135.5 L406.6,136.1 L410.4,136.9 L414.1,137.7 L417.9,138.6 L421.6,139.6 L425.3,140.5 L429.1,141.5 L432.8,142.4 L436.6,143.2 L440.3,144.1 L444.1,144.9 L447.9,145.6 L451.6,146.4 L455.4,147.1 L459.2,147.9 L463.0,148.6 L466.8,149.3 L470.6,150.0 L474.3,150.8 L478.1,151.5 L481.9,152.3 L485.6,153.2 L489.4,154.1 L493.1,155.1 L496.8,156.1 L500.5,157.2 L504.2,158.3 L507.9,159.5 L511.5,160.6 L515.2,161.8 L518.9,162.9 L522.6,163.9 L526.4,164.8 L530.1,165.8 L533.6,167.3 L537.1,169.1 L540.5,170.7 L544.2,171.7 L548.1,172.3 L551.9,172.7 L555.8,173.1 L559.6,173.5 L563.4,173.8 L567.2,174.2 L571.1,174.6 L574.9,175.0 L578.7,175.5 L582.5,176.0 L586.3,176.6 L590.2,177.2 L594.0,177.8 L597.8,178.4 L601.6,178.9 L605.4,179.4 L609.2,179.7 L613.1,180.1 L616.9,180.3 L620.8,180.5 L624.6,180.7 L628.5,180.8 L632.3,180.8 L636.2,180.8 L640.0,180.8 L643.9,180.8 L647.7,180.9 L651.6,181.2 L655.4,181.6 L659.2,182.0 L663.0,182.6 L666.8,183.1 L670.7,183.6 L674.5,184.1 L678.3,184.6 L682.1,185.1 L685.9,185.6 L689.8,186.0 L693.6,186.4 L697.4,186.8 L701.3,187.1 L705.1,187.3 L709.0,187.4 L712.8,187.5 L716.7,187.6 L720.5,187.6 L724.4,187.8 L728.2,187.9 L732.1,188.1 L735.9,188.3 L739.8,188.5 L743.6,188.8 L747.4,189.0 L751.3,189.2 L755.1,189.4 L759.0,189.6 L762.8,189.8 L766.7,189.9 L770.5,190.0 L774.4,190.1 L778.2,190.1 L782.1,190.0 L785.9,189.6 L789.7,189.2 L793.6,188.9 L797.4,188.7 L801.3,188.9 L805.1,189.6 L808.8,190.7 L812.3,192.2 L815.9,193.8 L819.3,195.6 L822.6,197.5 L825.8,199.6 L829.0,201.8 L832.2,204.0 L835.4,206.1 L838.7,208.2 L841.9,210.3 L845.0,212.6 L848.0,214.9 L850.8,217.5 L853.5,220.2 L856.1,223.1 L858.5,226.1 L860.8,229.2 L863.0,232.4 L865.1,235.7 L867.1,239.1 L869.0,242.5 L870.8,246.0 L872.5,249.4 L874.2,252.9 L875.8,256.4 L877.4,260.0 L878.9,263.5 L880.3,267.1 L881.7,270.6 L883.1,274.2 L884.4,277.8 L885.7,281.5 L886.9,285.1 L888.1,288.8 L889.3,292.5 L890.4,296.1 L891.5,299.8 L892.6,303.6 L893.5,307.3 L894.5,311.0 L895.3,314.8 L896.2,318.5 L896.9,322.3 L897.6,326.1 L898.2,329.9 L898.7,333.7 L899.2,337.5 L899.6,341.4 L900.0,345.2 L900.3,349.0 L900.6,352.9 L900.9,356.7 L901.1,360.6 L901.3,364.4 L901.5,368.3 L901.7,372.1 L901.8,376.0 L902.0,379.9 L902.1,383.7 L902.3,387.6 L902.4,391.4 L902.5,395.3 L902.7,399.1 L902.8,403.0 L903.0,406.8 L903.1,410.7 L903.3,414.5 L903.4,418.4 L903.6,422.2 L903.7,426.1 L903.9,429.9 L904.0,433.7 L904.2,437.6 L904.4,441.4 L904.6,445.3 L904.7,449.1 L904.9,453.0 L905.1,456.8 L905.3,460.7 L905.5,464.5 L905.7,468.3 L905.9,472.2 L906.1,476.0 L906.3,479.9 L906.5,483.7 L906.7,487.6 L906.9,491.4 L907.0,495.3 L907.2,499.1 L907.4,503.0 L907.6,506.8 L907.8,510.7 L907.9,514.5 L908.1,518.4 L908.2,522.2 L908.4,526.1 L908.5,529.9 L908.7,533.8 L908.8,537.6 L909.0,541.4 L909.1,545.3 L909.2,549.1 L909.3,553.0 L909.4,556.8 L909.6,560.7 L909.7,564.5 L909.8,568.4 L909.9,572.2 L909.9,576.1 L910.0,579.9 L910.1,583.8 L910.2,587.6 L910.3,591.5 L910.3,595.3 L910.4,599.2 L910.5,603.0 L910.5,606.9 L910.6,610.7 L910.6,614.6 L910.7,618.4 L910.7,622.3 L910.8,626.1 L910.8,630.0" fill="none" stroke="#FFD700" stroke-width="3.4" stroke-linejoin="round" stroke-linecap="butt" />
<path d="M159.4,22.2 L162.7,24.0 L166.1,25.7 L169.4,27.6 L172.7,29.4 L176.0,31.2 L179.3,33.1 L182.6,34.9 L185.9,36.8 L189.1,38.7 L192.4,40.6 L195.7,42.5 L198.9,44.4 L202.2,46.3 L205.5,48.1 L208.8,50.0 L212.0,51.9 L215.3,53.8 L218.6,55.6 L221.9,57.5 L225.2,59.3 L228.5,61.1 L231.9,62.9 L235.2,64.7 L238.5,66.4 L241.9,68.2 L245.3,69.9 L248.7,71.5 L252.1,73.2 L255.5,74.8 L258.9,76.4 L262.3,78.0 L265.8,79.5 L269.2,81.0 L272.7,82.6 L276.1,84.1 L279.6,85.6 L283.1,87.1 L286.5,88.7 L290.0,90.2 L293.4,91.8 L296.9,93.3 L300.3,94.9 L303.7,96.5 L307.2,98.0 L310.6,99.6 L314.1,101.1 L317.5,102.7 L320.9,104.2 L324.4,105.8 L327.9,107.3 L331.3,108.8 L334.8,110.2 L338.2,111.7 L341.7,113.3 L345.1,114.8 L348.6,116.4 L352.0,118.0 L355.4,119.7 L358.8,121.4 L362.2,123.2 L365.6,125.0 L369.0,126.7 L372.5,128.3 L375.9,129.8 L379.4,131.2 L383.0,132.4 L386.6,133.4 L390.3,134.1 L394.0,134.6 L397.8,135.1 L401.5,135.7 L405.2,136.4 L408.9,137.4 L412.5,138.5 L416.1,139.7 L419.7,141.0 L423.2,142.3 L426.7,143.7 L430.2,145.1 L433.7,146.5 L437.3,147.8 L440.8,149.2 L444.4,150.4 L447.9,151.6 L451.6,152.7 L455.2,153.7 L458.8,154.8 L462.5,155.7 L466.1,156.7 L469.8,157.6 L473.5,158.5 L477.1,159.4 L480.8,160.3 L484.5,161.2 L488.1,162.1 L491.8,163.0 L495.5,164.0 L499.1,165.0 L502.7,166.0 L506.4,167.1 L510.0,168.2 L513.6,169.1 L517.3,170.0 L521.1,170.6 L524.9,171.0 L528.7,171.2 L532.5,171.6 L536.3,172.1 L539.9,173.0 L543.3,174.4 L546.7,176.2 L550.2,177.6 L553.8,178.5 L557.6,178.9 L561.4,179.2 L565.2,179.4 L569.0,179.7 L572.8,180.2 L576.5,180.7 L580.3,181.2 L584.0,181.7 L587.7,182.3 L591.5,182.8 L595.2,183.2 L599.0,183.7 L602.7,184.1 L606.5,184.4 L610.3,184.8 L614.0,185.2 L617.8,185.5 L621.5,185.9 L625.3,186.3 L629.0,186.7 L632.8,187.0 L636.6,187.4 L640.3,187.8 L644.1,188.2 L647.8,188.5 L651.6,188.9 L655.4,189.3 L659.1,189.7 L662.9,190.0 L666.6,190.4 L670.4,190.8 L674.2,191.2 L677.9,191.5 L681.7,191.9 L685.4,192.3 L689.2,192.6 L693.0,193.0 L696.7,193.4 L700.5,193.8 L704.2,194.2 L708.0,194.7 L711.7,195.2 L715.5,195.7 L719.2,196.2 L723.0,196.6 L726.7,197.0 L730.5,197.5 L734.2,198.0 L737.9,198.5 L741.7,199.2 L745.4,199.8 L749.1,200.6 L752.8,201.3 L756.5,202.0 L760.2,202.8 L763.9,203.6 L767.6,204.5 L771.2,205.4 L774.9,206.3 L778.5,207.4 L782.2,208.4 L785.8,209.5 L789.4,210.5 L793.0,211.6 L796.7,212.7 L800.2,213.9 L803.8,215.2 L807.3,216.5 L810.8,218.0 L814.3,219.4 L817.8,220.9 L821.3,222.3 L824.9,223.6 L828.4,225.0 L831.7,226.7 L834.8,228.7 L837.8,231.0 L840.6,233.5 L843.2,236.1 L845.8,239.0 L848.3,241.9 L850.8,245.0 L853.2,248.0 L855.6,251.1 L858.0,254.1 L860.4,257.0 L862.8,260.0 L865.2,263.0 L867.5,266.0 L869.6,269.0 L871.7,272.1 L873.6,275.3 L875.4,278.6 L877.0,281.9 L878.5,285.4 L879.9,288.9 L881.1,292.4 L882.3,296.1 L883.3,299.7 L884.3,303.4 L885.3,307.1 L886.2,310.8 L887.1,314.6 L887.9,318.3 L888.8,322.0 L889.6,325.7 L890.5,329.4 L891.3,333.1 L892.0,336.8 L892.8,340.5 L893.5,344.2 L894.1,347.9 L894.7,351.6 L895.2,355.3 L895.7,359.0 L896.1,362.8 L896.5,366.5 L896.9,370.3 L897.2,374.1 L897.5,377.8 L897.8,381.6 L898.1,385.4 L898.3,389.2 L898.6,393.0 L898.8,396.7 L899.0,400.5 L899.3,404.3 L899.5,408.1 L899.7,411.8 L900.0,415.6 L900.2,419.4 L900.4,423.2 L900.7,426.9 L900.9,430.7 L901.1,434.5 L901.3,438.2 L901.6,442.0 L901.8,445.8 L902.0,449.6 L902.2,453.3 L902.4,457.1 L902.7,460.9 L902.9,464.6 L903.1,468.4 L903.3,472.2 L903.5,475.9 L903.7,479.7 L903.9,483.5 L904.2,487.2 L904.4,491.0 L904.6,494.8 L904.8,498.6 L905.0,502.3 L905.2,506.1 L905.4,509.9 L905.6,513.6 L905.7,517.4 L905.9,521.2 L906.1,525.0 L906.3,528.7 L906.4,532.5 L906.6,536.3 L906.8,540.1 L906.9,543.8 L907.1,547.6 L907.2,551.4 L907.3,555.2 L907.5,558.9 L907.6,562.7 L907.7,566.5 L907.9,570.3 L908.0,574.0 L908.1,577.8 L908.2,581.6 L908.4,585.4 L908.5,589.1 L908.6,592.9 L908.7,596.7 L908.9,600.5 L909.0,604.2 L909.1,608.0 L909.2,611.8 L909.4,615.6 L909.5,619.3 L909.7,623.1 L909.8,626.9" fill="none" stroke="#FFD700" stroke-width="2.6" stroke-linejoin="round" stroke-linecap="butt" stroke-dasharray="10.5 9.8" />
</g>
<line x1="360.5" y1="271.7" x2="509" y2="91.5" stroke="#000" stroke-width="5.9" stroke-linecap="round"/>
<polygon points="532.6,63.4 518.3,99.7 499.7,83.4" fill="#000"/>
<text x="589.0" y="106.0" font-size="48" font-weight="bold" fill="#000" >+ Temp</text>
<line x1="159.5" y1="637.5" x2="159.5" y2="629.2" stroke="#666" stroke-width="1.5"/>
<line x1="159.5" y1="10.7" x2="159.5" y2="19.0" stroke="#666" stroke-width="1.5"/>
<line x1="326.0" y1="637.5" x2="326.0" y2="629.2" stroke="#666" stroke-width="1.5"/>
<line x1="326.0" y1="10.7" x2="326.0" y2="19.0" stroke="#666" stroke-width="1.5"/>
<line x1="492.5" y1="637.5" x2="492.5" y2="629.2" stroke="#666" stroke-width="1.5"/>
<line x1="492.5" y1="10.7" x2="492.5" y2="19.0" stroke="#666" stroke-width="1.5"/>
<line x1="659.0" y1="637.5" x2="659.0" y2="629.2" stroke="#666" stroke-width="1.5"/>
<line x1="659.0" y1="10.7" x2="659.0" y2="19.0" stroke="#666" stroke-width="1.5"/>
<line x1="825.5" y1="637.5" x2="825.5" y2="629.2" stroke="#666" stroke-width="1.5"/>
<line x1="825.5" y1="10.7" x2="825.5" y2="19.0" stroke="#666" stroke-width="1.5"/>
<line x1="992.0" y1="637.5" x2="992.0" y2="629.2" stroke="#666" stroke-width="1.5"/>
<line x1="992.0" y1="10.7" x2="992.0" y2="19.0" stroke="#666" stroke-width="1.5"/>
<line x1="159.5" y1="10.7" x2="167.8" y2="10.7" stroke="#666" stroke-width="1.5"/>
<line x1="992.0" y1="10.7" x2="983.7" y2="10.7" stroke="#666" stroke-width="1.5"/>
<line x1="159.5" y1="115.2" x2="167.8" y2="115.2" stroke="#666" stroke-width="1.5"/>
<line x1="992.0" y1="115.2" x2="983.7" y2="115.2" stroke="#666" stroke-width="1.5"/>
<line x1="159.5" y1="219.6" x2="167.8" y2="219.6" stroke="#666" stroke-width="1.5"/>
<line x1="992.0" y1="219.6" x2="983.7" y2="219.6" stroke="#666" stroke-width="1.5"/>
<line x1="159.5" y1="324.1" x2="167.8" y2="324.1" stroke="#666" stroke-width="1.5"/>
<line x1="992.0" y1="324.1" x2="983.7" y2="324.1" stroke="#666" stroke-width="1.5"/>
<line x1="159.5" y1="428.6" x2="167.8" y2="428.6" stroke="#666" stroke-width="1.5"/>
<line x1="992.0" y1="428.6" x2="983.7" y2="428.6" stroke="#666" stroke-width="1.5"/>
<line x1="159.5" y1="533.0" x2="167.8" y2="533.0" stroke="#666" stroke-width="1.5"/>
<line x1="992.0" y1="533.0" x2="983.7" y2="533.0" stroke="#666" stroke-width="1.5"/>
<line x1="159.5" y1="637.5" x2="167.8" y2="637.5" stroke="#666" stroke-width="1.5"/>
<line x1="992.0" y1="637.5" x2="983.7" y2="637.5" stroke="#666" stroke-width="1.5"/>
<rect x="159.5" y="10.7" width="832.5" height="626.8" fill="none" stroke="#666" stroke-width="1.4"/>
<text x="159.5" y="678.0" font-size="30.6" text-anchor="middle" fill="#262626" >0</text>
<text x="326.0" y="678.0" font-size="30.6" text-anchor="middle" fill="#262626" >0.2</text>
<text x="492.5" y="678.0" font-size="30.6" text-anchor="middle" fill="#262626" >0.4</text>
<text x="659.0" y="678.0" font-size="30.6" text-anchor="middle" fill="#262626" >0.6</text>
<text x="825.5" y="678.0" font-size="30.6" text-anchor="middle" fill="#262626" >0.8</text>
<text x="992.0" y="678.0" font-size="30.6" text-anchor="middle" fill="#262626" >1</text>
<text x="149.0" y="23.8" font-size="30.6" text-anchor="end" fill="#262626" >4.20</text>
<text x="149.0" y="128.3" font-size="30.6" text-anchor="end" fill="#262626" >4.00</text>
<text x="149.0" y="232.7" font-size="30.6" text-anchor="end" fill="#262626" >3.80</text>
<text x="149.0" y="337.2" font-size="30.6" text-anchor="end" fill="#262626" >3.60</text>
<text x="149.0" y="441.7" font-size="30.6" text-anchor="end" fill="#262626" >3.40</text>
<text x="149.0" y="546.1" font-size="30.6" text-anchor="end" fill="#262626" >3.20</text>
<text x="149.0" y="650.6" font-size="30.6" text-anchor="end" fill="#262626" >3.00</text>
<text x="403.6" y="721.1" font-size="34" fill="#262626" xml:space="preserve">Cell Capacity <tspan font-style="italic">Q</tspan>  [mAh]</text>
<text x="76.9" y="461.0" font-size="34" transform="rotate(-90 76.9 461.0)" fill="#262626" xml:space="preserve">Cell Voltage <tspan font-style="italic">V</tspan>  [V]</text>
<text x="0.5" y="47.9" font-size="52" font-weight="bold" fill="#000" >(a)</text>
<rect x="172.9" y="431" width="595.6" height="194" fill="#fff" stroke="#626262" stroke-width="1.3"/>
<line x1="178.3" y1="457.1" x2="228.5" y2="457.1" stroke="#00008B" stroke-width="2.9"/>
<text x="231.7" y="473.0" font-size="31" textLength="191.4" lengthAdjust="spacingAndGlyphs" fill="#000" >Sim. Temp 25</text>
<text x="437.3" y="461.7" font-size="29.5" text-anchor="middle" fill="#222" >°</text>
<text x="443.0" y="473.0" font-size="31" fill="#000" >C</text>
<line x1="178.3" y1="504.7" x2="228.5" y2="504.7" stroke="#00008B" stroke-width="2.2" stroke-dasharray="11.5 8"/>
<text x="231.7" y="520.6" font-size="31" textLength="191.4" lengthAdjust="spacingAndGlyphs" fill="#000" >Exp. Temp 25</text>
<text x="437.3" y="509.3" font-size="29.5" text-anchor="middle" fill="#222" >°</text>
<text x="443.0" y="520.6" font-size="31" fill="#000" >C</text>
<line x1="178.3" y1="552.4" x2="228.5" y2="552.4" stroke="#0A8A0A" stroke-width="2.9"/>
<text x="231.7" y="568.3" font-size="31" textLength="191.4" lengthAdjust="spacingAndGlyphs" fill="#000" >Sim. Temp 35</text>
<text x="437.3" y="557.0" font-size="29.5" text-anchor="middle" fill="#222" >°</text>
<text x="443.0" y="568.3" font-size="31" fill="#000" >C</text>
<line x1="178.3" y1="600.0" x2="228.5" y2="600.0" stroke="#0A8A0A" stroke-width="2.2" stroke-dasharray="11.5 8"/>
<text x="231.7" y="615.9" font-size="31" textLength="191.4" lengthAdjust="spacingAndGlyphs" fill="#000" >Exp. Temp 35</text>
<text x="437.3" y="604.6" font-size="29.5" text-anchor="middle" fill="#222" >°</text>
<text x="443.0" y="615.9" font-size="31" fill="#000" >C</text>
<line x1="476.5" y1="457.1" x2="526.7" y2="457.1" stroke="#FF0000" stroke-width="2.9"/>
<text x="530.0" y="473.0" font-size="31" textLength="191.4" lengthAdjust="spacingAndGlyphs" fill="#000" >Sim. Temp 45</text>
<text x="735.6" y="461.7" font-size="29.5" text-anchor="middle" fill="#222" >°</text>
<text x="741.3" y="473.0" font-size="31" fill="#000" >C</text>
<line x1="476.5" y1="504.7" x2="526.7" y2="504.7" stroke="#FF0000" stroke-width="2.2" stroke-dasharray="11.5 8"/>
<text x="530.0" y="520.6" font-size="31" textLength="191.4" lengthAdjust="spacingAndGlyphs" fill="#000" >Exp. Temp 45</text>
<text x="735.6" y="509.3" font-size="29.5" text-anchor="middle" fill="#222" >°</text>
<text x="741.3" y="520.6" font-size="31" fill="#000" >C</text>
<line x1="476.5" y1="552.4" x2="526.7" y2="552.4" stroke="#FFD700" stroke-width="2.9"/>
<text x="530.0" y="568.3" font-size="31" textLength="191.4" lengthAdjust="spacingAndGlyphs" fill="#000" >Sim. Temp 55</text>
<text x="735.6" y="557.0" font-size="29.5" text-anchor="middle" fill="#222" >°</text>
<text x="741.3" y="568.3" font-size="31" fill="#000" >C</text>
<line x1="476.5" y1="600.0" x2="526.7" y2="600.0" stroke="#FFD700" stroke-width="2.2" stroke-dasharray="11.5 8"/>
<text x="530.0" y="615.9" font-size="31" textLength="191.4" lengthAdjust="spacingAndGlyphs" fill="#000" >Exp. Temp 55</text>
<text x="735.6" y="604.6" font-size="29.5" text-anchor="middle" fill="#222" >°</text>
<text x="741.3" y="615.9" font-size="31" fill="#000" >C</text>
<rect x="1194.5" y="23.5" width="873.7" height="603.0" fill="#fff"/>
<line x1="1194.5" y1="23.5" x2="1194.5" y2="626.5" stroke="#e3e3e3" stroke-width="1.2"/>
<line x1="1444.1" y1="23.5" x2="1444.1" y2="626.5" stroke="#e3e3e3" stroke-width="1.2"/>
<line x1="1693.7" y1="23.5" x2="1693.7" y2="626.5" stroke="#e3e3e3" stroke-width="1.2"/>
<line x1="1943.3" y1="23.5" x2="1943.3" y2="626.5" stroke="#e3e3e3" stroke-width="1.2"/>
<line x1="1194.5" y1="23.5" x2="2068.2" y2="23.5" stroke="#e3e3e3" stroke-width="1.2"/>
<line x1="1194.5" y1="95.4" x2="2068.2" y2="95.4" stroke="#e3e3e3" stroke-width="1.2"/>
<line x1="1194.5" y1="167.2" x2="2068.2" y2="167.2" stroke="#e3e3e3" stroke-width="1.2"/>
<line x1="1194.5" y1="239.1" x2="2068.2" y2="239.1" stroke="#e3e3e3" stroke-width="1.2"/>
<line x1="1194.5" y1="311.0" x2="2068.2" y2="311.0" stroke="#e3e3e3" stroke-width="1.2"/>
<line x1="1194.5" y1="382.9" x2="2068.2" y2="382.9" stroke="#e3e3e3" stroke-width="1.2"/>
<line x1="1194.5" y1="454.8" x2="2068.2" y2="454.8" stroke="#e3e3e3" stroke-width="1.2"/>
<line x1="1194.5" y1="526.6" x2="2068.2" y2="526.6" stroke="#e3e3e3" stroke-width="1.2"/>
<line x1="1194.5" y1="598.5" x2="2068.2" y2="598.5" stroke="#e3e3e3" stroke-width="1.2"/>
<clipPath id="cb"><rect x="1189.5" y="23.5" width="878.7" height="604.0"/></clipPath><g clip-path="url(#cb)">
<path d="M1193.6,30.5 L1195.0,34.0 L1196.0,37.7 L1198.1,40.9 L1200.8,43.5 L1204.0,45.6 L1207.4,47.4 L1210.8,49.2 L1214.2,51.0 L1217.6,52.8 L1221.0,54.5 L1224.4,56.1 L1227.9,57.7 L1231.4,59.3 L1234.9,60.8 L1238.4,62.3 L1241.9,63.7 L1245.5,65.1 L1249.0,66.5 L1252.6,67.9 L1256.1,69.3 L1259.7,70.6 L1263.3,71.9 L1266.9,73.3 L1270.4,74.8 L1273.8,76.4 L1277.2,78.1 L1280.6,80.0 L1283.9,81.8 L1287.3,83.5 L1290.7,85.2 L1294.2,86.9 L1297.6,88.6 L1301.0,90.2 L1304.5,91.8 L1308.0,93.3 L1311.5,94.8 L1315.0,96.3 L1318.6,97.8 L1322.1,99.2 L1325.6,100.6 L1329.2,102.0 L1332.8,103.3 L1336.3,104.7 L1339.9,105.9 L1343.5,107.2 L1347.2,108.3 L1350.8,109.5 L1354.5,110.7 L1358.1,111.9 L1361.7,113.1 L1365.3,114.4 L1368.9,115.7 L1372.4,117.1 L1376.0,118.5 L1379.5,119.9 L1383.0,121.3 L1386.6,122.8 L1390.1,124.3 L1393.6,125.9 L1397.0,127.5 L1400.5,129.1 L1403.9,130.8 L1407.3,132.4 L1410.8,134.0 L1414.3,135.6 L1417.7,137.2 L1421.2,138.7 L1424.8,140.2 L1428.3,141.6 L1431.8,143.1 L1435.4,144.4 L1439.0,145.7 L1442.6,147.0 L1446.2,148.2 L1449.8,149.4 L1453.5,150.4 L1457.2,151.3 L1460.9,152.1 L1464.7,152.9 L1468.4,153.7 L1472.1,154.5 L1475.9,155.3 L1479.6,156.2 L1483.3,157.0 L1487.0,157.8 L1490.8,158.6 L1494.5,159.5 L1498.2,160.3 L1501.9,161.1 L1505.6,162.0 L1509.4,162.8 L1513.1,163.7 L1516.8,164.6 L1520.5,165.5 L1524.2,166.4 L1527.9,167.3 L1531.6,168.2 L1535.3,169.1 L1539.0,170.1 L1542.7,171.1 L1546.4,172.1 L1550.0,173.2 L1553.7,174.3 L1557.3,175.6 L1560.9,176.8 L1564.5,178.1 L1568.1,179.4 L1571.7,180.5 L1575.4,181.5 L1579.1,182.6 L1582.7,183.7 L1586.3,185.0 L1589.7,186.7 L1593.1,188.5 L1596.6,190.1 L1600.1,191.6 L1603.8,192.5 L1607.5,193.2 L1611.3,193.7 L1615.1,194.2 L1618.9,194.7 L1622.7,195.4 L1626.4,196.0 L1630.2,196.7 L1633.9,197.4 L1637.7,198.0 L1641.4,198.8 L1645.2,199.5 L1649.0,200.0 L1652.8,200.2 L1656.6,200.4 L1660.4,200.6 L1664.2,200.8 L1668.0,201.0 L1671.8,201.2 L1675.6,201.4 L1679.4,201.6 L1683.2,202.1 L1687.0,202.6 L1690.8,203.3 L1694.5,204.0 L1698.2,204.9 L1701.9,205.9 L1705.7,206.6 L1709.4,207.2 L1713.2,207.6 L1717.0,208.0 L1720.8,208.2 L1724.6,208.4 L1728.4,208.5 L1732.3,208.6 L1736.1,208.8 L1739.9,209.0 L1743.7,209.2 L1747.5,209.5 L1751.3,209.7 L1755.1,210.1 L1758.9,210.4 L1762.7,210.7 L1766.5,211.1 L1770.3,211.5 L1774.1,211.9 L1777.9,212.4 L1781.7,212.8 L1785.5,213.3 L1789.2,213.8 L1793.0,214.3 L1796.8,214.9 L1800.6,215.5 L1804.3,216.1 L1808.1,216.8 L1811.8,217.7 L1815.5,218.7 L1819.1,219.7 L1822.8,220.9 L1826.4,222.0 L1830.0,223.2 L1833.6,224.5 L1837.2,225.8 L1840.8,227.2 L1844.3,228.6 L1847.9,230.0 L1851.4,231.5 L1854.9,233.0 L1858.4,234.6 L1861.9,236.2 L1865.3,237.8 L1868.7,239.5 L1872.1,241.3 L1875.5,243.0 L1878.8,244.9 L1882.1,246.8 L1885.4,248.7 L1888.7,250.7 L1891.9,252.8 L1895.1,255.0 L1898.1,257.2 L1901.2,259.4 L1904.2,261.8 L1907.1,264.3 L1910.0,266.8 L1912.9,269.4 L1915.6,272.0 L1918.3,274.7 L1920.9,277.5 L1923.4,280.3 L1925.9,283.3 L1928.3,286.3 L1930.5,289.4 L1932.6,292.6 L1934.5,295.8 L1936.4,299.1 L1938.2,302.5 L1939.9,306.0 L1941.5,309.5 L1943.0,313.0 L1944.3,316.5 L1945.6,320.1 L1946.8,323.7 L1948.0,327.4 L1949.1,331.0 L1950.2,334.7 L1951.3,338.4 L1952.4,342.0 L1953.5,345.7 L1954.5,349.4 L1955.4,353.1 L1956.1,356.8 L1956.7,360.6 L1957.2,364.3 L1957.6,368.1 L1958.0,371.9 L1958.4,375.7 L1958.8,379.5 L1959.2,383.3 L1959.6,387.1 L1960.0,390.9 L1960.4,394.7 L1960.8,398.5 L1961.2,402.3 L1961.6,406.1 L1961.9,409.9 L1962.3,413.7 L1962.7,417.5 L1963.0,421.3 L1963.4,425.1 L1963.7,428.9 L1964.1,432.7 L1964.4,436.5 L1964.8,440.3 L1965.1,444.1 L1965.4,447.9 L1965.8,451.7 L1966.1,455.5 L1966.4,459.3 L1966.6,463.1 L1966.9,466.9 L1967.2,470.7 L1967.4,474.5 L1967.6,478.3 L1967.9,482.1 L1968.1,486.0 L1968.3,489.8 L1968.5,493.6 L1968.7,497.4 L1969.0,501.2 L1969.2,505.0 L1969.4,508.8 L1969.6,512.6 L1969.8,516.4 L1970.0,520.2 L1970.2,524.1 L1970.5,527.9 L1970.7,531.7 L1970.9,535.5 L1971.0,539.3 L1971.2,543.1 L1971.4,546.9 L1971.5,550.7 L1971.7,554.5 L1971.8,558.3 L1972.0,562.2 L1972.1,566.0 L1972.2,569.8 L1972.4,573.6 L1972.5,577.4 L1972.6,581.2 L1972.7,585.0 L1972.8,588.9 L1972.9,592.7 L1973.0,596.5 L1973.1,600.3 L1973.2,604.1 L1973.3,607.9 L1973.3,611.7 L1973.4,615.6 L1973.5,619.4 L1973.5,623.2 L1973.6,627.0" fill="none" stroke="#00008B" stroke-width="3.3" stroke-linejoin="round" stroke-linecap="butt" />
</g>
<line x1="1194.5" y1="626.5" x2="1194.5" y2="618.2" stroke="#666" stroke-width="1.5"/>
<line x1="1194.5" y1="23.5" x2="1194.5" y2="31.8" stroke="#666" stroke-width="1.5"/>
<line x1="1444.1" y1="626.5" x2="1444.1" y2="618.2" stroke="#666" stroke-width="1.5"/>
<line x1="1444.1" y1="23.5" x2="1444.1" y2="31.8" stroke="#666" stroke-width="1.5"/>
<line x1="1693.7" y1="626.5" x2="1693.7" y2="618.2" stroke="#666" stroke-width="1.5"/>
<line x1="1693.7" y1="23.5" x2="1693.7" y2="31.8" stroke="#666" stroke-width="1.5"/>
<line x1="1943.3" y1="626.5" x2="1943.3" y2="618.2" stroke="#666" stroke-width="1.5"/>
<line x1="1943.3" y1="23.5" x2="1943.3" y2="31.8" stroke="#666" stroke-width="1.5"/>
<line x1="1194.5" y1="23.5" x2="1202.8" y2="23.5" stroke="#666" stroke-width="1.5"/>
<line x1="2068.2" y1="23.5" x2="2059.9" y2="23.5" stroke="#666" stroke-width="1.5"/>
<line x1="1194.5" y1="95.4" x2="1202.8" y2="95.4" stroke="#666" stroke-width="1.5"/>
<line x1="2068.2" y1="95.4" x2="2059.9" y2="95.4" stroke="#666" stroke-width="1.5"/>
<line x1="1194.5" y1="167.2" x2="1202.8" y2="167.2" stroke="#666" stroke-width="1.5"/>
<line x1="2068.2" y1="167.2" x2="2059.9" y2="167.2" stroke="#666" stroke-width="1.5"/>
<line x1="1194.5" y1="239.1" x2="1202.8" y2="239.1" stroke="#666" stroke-width="1.5"/>
<line x1="2068.2" y1="239.1" x2="2059.9" y2="239.1" stroke="#666" stroke-width="1.5"/>
<line x1="1194.5" y1="311.0" x2="1202.8" y2="311.0" stroke="#666" stroke-width="1.5"/>
<line x1="2068.2" y1="311.0" x2="2059.9" y2="311.0" stroke="#666" stroke-width="1.5"/>
<line x1="1194.5" y1="382.9" x2="1202.8" y2="382.9" stroke="#666" stroke-width="1.5"/>
<line x1="2068.2" y1="382.9" x2="2059.9" y2="382.9" stroke="#666" stroke-width="1.5"/>
<line x1="1194.5" y1="454.8" x2="1202.8" y2="454.8" stroke="#666" stroke-width="1.5"/>
<line x1="2068.2" y1="454.8" x2="2059.9" y2="454.8" stroke="#666" stroke-width="1.5"/>
<line x1="1194.5" y1="526.6" x2="1202.8" y2="526.6" stroke="#666" stroke-width="1.5"/>
<line x1="2068.2" y1="526.6" x2="2059.9" y2="526.6" stroke="#666" stroke-width="1.5"/>
<line x1="1194.5" y1="598.5" x2="1202.8" y2="598.5" stroke="#666" stroke-width="1.5"/>
<line x1="2068.2" y1="598.5" x2="2059.9" y2="598.5" stroke="#666" stroke-width="1.5"/>
<rect x="1194.5" y="23.5" width="873.7" height="603.0" fill="none" stroke="#666" stroke-width="1.4"/>
<text x="1194.5" y="667.0" font-size="30.6" text-anchor="middle" fill="#262626" >0</text>
<text x="1444.1" y="667.0" font-size="30.6" text-anchor="middle" fill="#262626" >0.04</text>
<text x="1693.7" y="667.0" font-size="30.6" text-anchor="middle" fill="#262626" >0.08</text>
<text x="1943.3" y="667.0" font-size="30.6" text-anchor="middle" fill="#262626" >0.<tspan dx="-1.5">1</tspan>2</text>
<text x="1184.0" y="36.1" font-size="30.6" text-anchor="end" fill="#262626" >1<tspan dx="-2.5">6.50</tspan></text>
<text x="1184.0" y="108.0" font-size="30.6" text-anchor="end" fill="#262626" >1<tspan dx="-2.5">6.00</tspan></text>
<text x="1184.0" y="179.8" font-size="30.6" text-anchor="end" fill="#262626" >1<tspan dx="-2.5">5.50</tspan></text>
<text x="1184.0" y="251.7" font-size="30.6" text-anchor="end" fill="#262626" >1<tspan dx="-2.5">5.00</tspan></text>
<text x="1184.0" y="323.6" font-size="30.6" text-anchor="end" fill="#262626" >1<tspan dx="-2.5">4.50</tspan></text>
<text x="1184.0" y="395.5" font-size="30.6" text-anchor="end" fill="#262626" >1<tspan dx="-2.5">4.00</tspan></text>
<text x="1184.0" y="467.4" font-size="30.6" text-anchor="end" fill="#262626" >1<tspan dx="-2.5">3.50</tspan></text>
<text x="1184.0" y="539.2" font-size="30.6" text-anchor="end" fill="#262626" >1<tspan dx="-2.5">3.00</tspan></text>
<text x="1184.0" y="611.1" font-size="30.6" text-anchor="end" fill="#262626" >1<tspan dx="-2.5">2.50</tspan></text>
<polygon points="1194.4,46.3 1197.2,54.9 1206.2,54.9 1198.9,60.2 1201.7,68.7 1194.4,63.4 1187.1,68.7 1189.9,60.2 1182.6,54.9 1191.6,54.9" fill="#FF0000"/>
<text x="1511.5" y="708.5" font-size="33" fill="#262626" xml:space="preserve">Capacity, <tspan font-style="italic">Q</tspan> [Ah]</text>
<text x="1097.5" y="427.0" font-size="33" transform="rotate(-90 1097.5 427.0)" fill="#262626" xml:space="preserve">Voltage, <tspan font-style="italic">V</tspan> [V]</text>
<text x="1037.0" y="46.9" font-size="52.5" font-weight="bold" fill="#000" >(b)</text>
<rect x="1529.3" y="37.5" width="526" height="119.9" fill="#fff" stroke="#626262" stroke-width="1.3"/>
<line x1="1533.3" y1="77.9" x2="1582.7" y2="77.9" stroke="#00008B" stroke-width="3.5"/>
<text x="1585.5" y="71.0" font-size="29.55" fill="#000" >Four-layers bipolar cell</text>
<text x="1586.5" y="112.0" font-size="29.55" fill="#000" >stack model prediction</text>
<line x1="1533.3" y1="136.1" x2="1582.7" y2="136.1" stroke="#F28C5A" stroke-width="1"/>
<polygon points="1558.5,123.8 1561.5,133.0 1571.1,133.0 1563.3,138.7 1566.3,147.9 1558.5,142.2 1550.7,147.9 1553.7,138.7 1545.9,133.0 1555.5,133.0" fill="#FF0000"/>
<text x="1586.6" y="148.5" font-size="29.55" fill="#000" >Toyota four-layers bipolar cell stack</text>
<rect x="164.5" y="803.3" width="767.0" height="680.7" fill="#fff"/>
<line x1="202.8" y1="803.3" x2="202.8" y2="1484.0" stroke="#d4d4d4" stroke-width="1" stroke-dasharray="1.1 2.5"/>
<line x1="241.2" y1="803.3" x2="241.2" y2="1484.0" stroke="#d4d4d4" stroke-width="1" stroke-dasharray="1.1 2.5"/>
<line x1="279.6" y1="803.3" x2="279.6" y2="1484.0" stroke="#d4d4d4" stroke-width="1" stroke-dasharray="1.1 2.5"/>
<line x1="356.2" y1="803.3" x2="356.2" y2="1484.0" stroke="#d4d4d4" stroke-width="1" stroke-dasharray="1.1 2.5"/>
<line x1="394.6" y1="803.3" x2="394.6" y2="1484.0" stroke="#d4d4d4" stroke-width="1" stroke-dasharray="1.1 2.5"/>
<line x1="433.0" y1="803.3" x2="433.0" y2="1484.0" stroke="#d4d4d4" stroke-width="1" stroke-dasharray="1.1 2.5"/>
<line x1="509.7" y1="803.3" x2="509.7" y2="1484.0" stroke="#d4d4d4" stroke-width="1" stroke-dasharray="1.1 2.5"/>
<line x1="548.0" y1="803.3" x2="548.0" y2="1484.0" stroke="#d4d4d4" stroke-width="1" stroke-dasharray="1.1 2.5"/>
<line x1="586.4" y1="803.3" x2="586.4" y2="1484.0" stroke="#d4d4d4" stroke-width="1" stroke-dasharray="1.1 2.5"/>
<line x1="663.0" y1="803.3" x2="663.0" y2="1484.0" stroke="#d4d4d4" stroke-width="1" stroke-dasharray="1.1 2.5"/>
<line x1="701.4" y1="803.3" x2="701.4" y2="1484.0" stroke="#d4d4d4" stroke-width="1" stroke-dasharray="1.1 2.5"/>
<line x1="739.8" y1="803.3" x2="739.8" y2="1484.0" stroke="#d4d4d4" stroke-width="1" stroke-dasharray="1.1 2.5"/>
<line x1="816.5" y1="803.3" x2="816.5" y2="1484.0" stroke="#d4d4d4" stroke-width="1" stroke-dasharray="1.1 2.5"/>
<line x1="854.8" y1="803.3" x2="854.8" y2="1484.0" stroke="#d4d4d4" stroke-width="1" stroke-dasharray="1.1 2.5"/>
<line x1="893.2" y1="803.3" x2="893.2" y2="1484.0" stroke="#d4d4d4" stroke-width="1" stroke-dasharray="1.1 2.5"/>
<line x1="164.5" y1="1459.7" x2="931.5" y2="1459.7" stroke="#d4d4d4" stroke-width="1" stroke-dasharray="1.1 2.5"/>
<line x1="164.5" y1="1435.3" x2="931.5" y2="1435.3" stroke="#d4d4d4" stroke-width="1" stroke-dasharray="1.1 2.5"/>
<line x1="164.5" y1="1411.0" x2="931.5" y2="1411.0" stroke="#d4d4d4" stroke-width="1" stroke-dasharray="1.1 2.5"/>
<line x1="164.5" y1="1362.3" x2="931.5" y2="1362.3" stroke="#d4d4d4" stroke-width="1" stroke-dasharray="1.1 2.5"/>
<line x1="164.5" y1="1338.0" x2="931.5" y2="1338.0" stroke="#d4d4d4" stroke-width="1" stroke-dasharray="1.1 2.5"/>
<line x1="164.5" y1="1313.7" x2="931.5" y2="1313.7" stroke="#d4d4d4" stroke-width="1" stroke-dasharray="1.1 2.5"/>
<line x1="164.5" y1="1265.0" x2="931.5" y2="1265.0" stroke="#d4d4d4" stroke-width="1" stroke-dasharray="1.1 2.5"/>
<line x1="164.5" y1="1240.7" x2="931.5" y2="1240.7" stroke="#d4d4d4" stroke-width="1" stroke-dasharray="1.1 2.5"/>
<line x1="164.5" y1="1216.4" x2="931.5" y2="1216.4" stroke="#d4d4d4" stroke-width="1" stroke-dasharray="1.1 2.5"/>
<line x1="164.5" y1="1167.7" x2="931.5" y2="1167.7" stroke="#d4d4d4" stroke-width="1" stroke-dasharray="1.1 2.5"/>
<line x1="164.5" y1="1143.4" x2="931.5" y2="1143.4" stroke="#d4d4d4" stroke-width="1" stroke-dasharray="1.1 2.5"/>
<line x1="164.5" y1="1119.0" x2="931.5" y2="1119.0" stroke="#d4d4d4" stroke-width="1" stroke-dasharray="1.1 2.5"/>
<line x1="164.5" y1="1070.4" x2="931.5" y2="1070.4" stroke="#d4d4d4" stroke-width="1" stroke-dasharray="1.1 2.5"/>
<line x1="164.5" y1="1046.1" x2="931.5" y2="1046.1" stroke="#d4d4d4" stroke-width="1" stroke-dasharray="1.1 2.5"/>
<line x1="164.5" y1="1021.7" x2="931.5" y2="1021.7" stroke="#d4d4d4" stroke-width="1" stroke-dasharray="1.1 2.5"/>
<line x1="164.5" y1="973.1" x2="931.5" y2="973.1" stroke="#d4d4d4" stroke-width="1" stroke-dasharray="1.1 2.5"/>
<line x1="164.5" y1="948.7" x2="931.5" y2="948.7" stroke="#d4d4d4" stroke-width="1" stroke-dasharray="1.1 2.5"/>
<line x1="164.5" y1="924.4" x2="931.5" y2="924.4" stroke="#d4d4d4" stroke-width="1" stroke-dasharray="1.1 2.5"/>
<line x1="164.5" y1="875.8" x2="931.5" y2="875.8" stroke="#d4d4d4" stroke-width="1" stroke-dasharray="1.1 2.5"/>
<line x1="164.5" y1="851.4" x2="931.5" y2="851.4" stroke="#d4d4d4" stroke-width="1" stroke-dasharray="1.1 2.5"/>
<line x1="164.5" y1="827.1" x2="931.5" y2="827.1" stroke="#d4d4d4" stroke-width="1" stroke-dasharray="1.1 2.5"/>
<line x1="164.5" y1="803.3" x2="164.5" y2="1484.0" stroke="#e3e3e3" stroke-width="1.2"/>
<line x1="317.9" y1="803.3" x2="317.9" y2="1484.0" stroke="#e3e3e3" stroke-width="1.2"/>
<line x1="471.3" y1="803.3" x2="471.3" y2="1484.0" stroke="#e3e3e3" stroke-width="1.2"/>
<line x1="624.7" y1="803.3" x2="624.7" y2="1484.0" stroke="#e3e3e3" stroke-width="1.2"/>
<line x1="778.1" y1="803.3" x2="778.1" y2="1484.0" stroke="#e3e3e3" stroke-width="1.2"/>
<line x1="931.5" y1="803.3" x2="931.5" y2="1484.0" stroke="#e3e3e3" stroke-width="1.2"/>
<line x1="164.5" y1="900.1" x2="931.5" y2="900.1" stroke="#e3e3e3" stroke-width="1.2"/>
<line x1="164.5" y1="997.4" x2="931.5" y2="997.4" stroke="#e3e3e3" stroke-width="1.2"/>
<line x1="164.5" y1="1094.7" x2="931.5" y2="1094.7" stroke="#e3e3e3" stroke-width="1.2"/>
<line x1="164.5" y1="1192.0" x2="931.5" y2="1192.0" stroke="#e3e3e3" stroke-width="1.2"/>
<line x1="164.5" y1="1289.4" x2="931.5" y2="1289.4" stroke="#e3e3e3" stroke-width="1.2"/>
<line x1="164.5" y1="1386.7" x2="931.5" y2="1386.7" stroke="#e3e3e3" stroke-width="1.2"/>
<line x1="164.5" y1="1484.0" x2="931.5" y2="1484.0" stroke="#e3e3e3" stroke-width="1.2"/>
<line x1="164.5" y1="1484.0" x2="164.5" y2="1475.7" stroke="#666" stroke-width="1.5"/>
<line x1="164.5" y1="803.3" x2="164.5" y2="811.6" stroke="#666" stroke-width="1.5"/>
<line x1="317.9" y1="1484.0" x2="317.9" y2="1475.7" stroke="#666" stroke-width="1.5"/>
<line x1="317.9" y1="803.3" x2="317.9" y2="811.6" stroke="#666" stroke-width="1.5"/>
<line x1="471.3" y1="1484.0" x2="471.3" y2="1475.7" stroke="#666" stroke-width="1.5"/>
<line x1="471.3" y1="803.3" x2="471.3" y2="811.6" stroke="#666" stroke-width="1.5"/>
<line x1="624.7" y1="1484.0" x2="624.7" y2="1475.7" stroke="#666" stroke-width="1.5"/>
<line x1="624.7" y1="803.3" x2="624.7" y2="811.6" stroke="#666" stroke-width="1.5"/>
<line x1="778.1" y1="1484.0" x2="778.1" y2="1475.7" stroke="#666" stroke-width="1.5"/>
<line x1="778.1" y1="803.3" x2="778.1" y2="811.6" stroke="#666" stroke-width="1.5"/>
<line x1="931.5" y1="1484.0" x2="931.5" y2="1475.7" stroke="#666" stroke-width="1.5"/>
<line x1="931.5" y1="803.3" x2="931.5" y2="811.6" stroke="#666" stroke-width="1.5"/>
<line x1="164.5" y1="900.1" x2="172.8" y2="900.1" stroke="#666" stroke-width="1.5"/>
<line x1="931.5" y1="900.1" x2="923.2" y2="900.1" stroke="#666" stroke-width="1.5"/>
<line x1="164.5" y1="997.4" x2="172.8" y2="997.4" stroke="#666" stroke-width="1.5"/>
<line x1="931.5" y1="997.4" x2="923.2" y2="997.4" stroke="#666" stroke-width="1.5"/>
<line x1="164.5" y1="1094.7" x2="172.8" y2="1094.7" stroke="#666" stroke-width="1.5"/>
<line x1="931.5" y1="1094.7" x2="923.2" y2="1094.7" stroke="#666" stroke-width="1.5"/>
<line x1="164.5" y1="1192.0" x2="172.8" y2="1192.0" stroke="#666" stroke-width="1.5"/>
<line x1="931.5" y1="1192.0" x2="923.2" y2="1192.0" stroke="#666" stroke-width="1.5"/>
<line x1="164.5" y1="1289.4" x2="172.8" y2="1289.4" stroke="#666" stroke-width="1.5"/>
<line x1="931.5" y1="1289.4" x2="923.2" y2="1289.4" stroke="#666" stroke-width="1.5"/>
<line x1="164.5" y1="1386.7" x2="172.8" y2="1386.7" stroke="#666" stroke-width="1.5"/>
<line x1="931.5" y1="1386.7" x2="923.2" y2="1386.7" stroke="#666" stroke-width="1.5"/>
<line x1="164.5" y1="1484.0" x2="172.8" y2="1484.0" stroke="#666" stroke-width="1.5"/>
<line x1="931.5" y1="1484.0" x2="923.2" y2="1484.0" stroke="#666" stroke-width="1.5"/>
<rect x="164.5" y="803.3" width="767.0" height="680.7" fill="none" stroke="#666" stroke-width="1.4"/>
<text x="164.5" y="1527.5" font-size="33.2" text-anchor="middle" fill="#262626" >0</text>
<text x="317.9" y="1527.5" font-size="33.2" text-anchor="middle" fill="#262626" >0.2</text>
<text x="471.3" y="1527.5" font-size="33.2" text-anchor="middle" fill="#262626" >0.4</text>
<text x="624.7" y="1527.5" font-size="33.2" text-anchor="middle" fill="#262626" >0.6</text>
<text x="778.1" y="1527.5" font-size="33.2" text-anchor="middle" fill="#262626" >0.8</text>
<text x="931.5" y="1527.5" font-size="33.2" text-anchor="middle" fill="#262626" >1</text>
<text x="153.5" y="913.8" font-size="33.2" text-anchor="end" fill="#262626" >4.20</text>
<text x="153.5" y="1011.1" font-size="33.2" text-anchor="end" fill="#262626" >4.00</text>
<text x="153.5" y="1108.4" font-size="33.2" text-anchor="end" fill="#262626" >3.80</text>
<text x="153.5" y="1205.7" font-size="33.2" text-anchor="end" fill="#262626" >3.60</text>
<text x="153.5" y="1303.1" font-size="33.2" text-anchor="end" fill="#262626" >3.40</text>
<text x="153.5" y="1400.4" font-size="33.2" text-anchor="end" fill="#262626" >3.20</text>
<text x="153.5" y="1497.7" font-size="33.2" text-anchor="end" fill="#262626" >3.00</text>
<defs>
<marker id="mc" markerUnits="userSpaceOnUse" markerWidth="14" markerHeight="14" refX="7" refY="7"><circle cx="7" cy="7" r="5.8" fill="#8B0000"/></marker>
<marker id="mt" markerUnits="userSpaceOnUse" markerWidth="18" markerHeight="18" refX="9" refY="9"><polygon points="9,0.4 16.6,13.8 1.4,13.8" fill="#FF8C00"/></marker>
<marker id="ms" markerUnits="userSpaceOnUse" markerWidth="20" markerHeight="20" refX="10" refY="10"><polygon points="10.00,1.70 11.94,7.33 17.89,7.44 13.14,11.02 14.88,16.71 10.00,13.30 5.12,16.71 6.86,11.02 2.11,7.44 8.06,7.33" fill="#FFD700"/></marker>
</defs>
<polyline points="164.5,918.5 166.3,919.4 168.1,920.3 169.8,921.2 171.6,922.1 173.4,923.0 175.2,923.9 177.0,924.8 178.8,925.7 180.6,926.6 182.4,927.5 184.2,928.4 186.0,929.3 187.8,930.1 189.6,931.0 191.4,931.9 193.2,932.7 195.0,933.6 196.8,934.5 198.6,935.3 200.4,936.2 202.2,937.0 204.0,937.9 205.8,938.7 207.6,939.5 209.5,940.3 211.3,941.2 213.1,942.0 214.9,942.8 216.8,943.6 218.6,944.4 220.4,945.2 222.3,946.0 224.1,946.9 225.9,947.7 227.7,948.5 229.6,949.3 231.4,950.1 233.2,950.9 235.0,951.7 236.9,952.6 238.7,953.4 240.5,954.2 242.3,955.1 244.1,955.9 246.0,956.7 247.8,957.6 249.6,958.4 251.4,959.3 253.2,960.1 255.0,961.0 256.8,961.8 258.7,962.6 260.5,963.4 262.3,964.2 264.2,965.0 266.0,965.8 267.8,966.6 269.7,967.4 271.5,968.1 273.4,968.9 275.3,969.6 277.1,970.3 279.0,971.1 280.8,971.8 282.7,972.5 284.6,973.2 286.5,973.9 288.3,974.6 290.2,975.3 292.1,976.0 294.0,976.7 295.8,977.3 297.7,978.0 299.6,978.7 301.5,979.3 303.4,980.0 305.3,980.6 307.2,981.3 309.1,981.9 311.0,982.5 312.9,983.1 314.8,983.7 316.7,984.3 318.6,984.8 320.5,985.4 322.5,986.0 324.4,986.6 326.3,987.2 328.2,987.8 330.1,988.4 332.0,989.0 333.9,989.7 335.8,990.4 337.6,991.1 339.5,991.8 341.4,992.5 343.2,993.3 345.0,994.1 346.9,994.9 348.7,995.7 350.5,996.6 352.3,997.4 354.1,998.2 356.0,999.1 357.8,999.9 359.6,1000.7 361.5,1001.4 363.3,1002.2 365.2,1002.9 367.0,1003.7 368.9,1004.4 370.8,1005.1 372.6,1005.9 374.5,1006.6 376.4,1007.3 378.2,1008.0 380.1,1008.6 382.0,1009.3 383.9,1009.9 385.8,1010.5 387.8,1011.0 389.7,1011.6 391.6,1012.0 393.6,1012.5 395.5,1013.0 397.5,1013.4 399.4,1013.8 401.4,1014.2 403.4,1014.6 405.3,1014.9 407.3,1015.3 409.3,1015.7 411.2,1016.0 413.2,1016.4 415.2,1016.8 417.1,1017.1 419.1,1017.5 421.0,1017.9 423.0,1018.3 425.0,1018.8 426.9,1019.2 428.9,1019.7 430.8,1020.1 432.7,1020.6 434.7,1021.1 436.6,1021.5 438.6,1022.0 440.5,1022.5 442.5,1022.9 444.4,1023.4 446.4,1023.8 448.3,1024.3 450.3,1024.7 452.2,1025.1 454.2,1025.5 456.2,1025.9 458.1,1026.2 460.1,1026.5 462.1,1026.8 464.1,1027.1 466.0,1027.4 468.0,1027.7 470.0,1028.0 472.0,1028.2 474.0,1028.5 475.9,1028.8 477.9,1029.1 479.9,1029.5 481.8,1029.8 483.8,1030.2 485.8,1030.6 487.7,1031.0 489.7,1031.5 491.6,1031.9 493.6,1032.4 495.5,1032.8 497.5,1033.3 499.4,1033.8 501.4,1034.3 503.3,1034.7 505.2,1035.2 507.2,1035.7 509.1,1036.2 511.0,1036.7 513.0,1037.3 514.9,1037.9 516.8,1038.5 518.7,1039.1 520.6,1039.7 522.5,1040.3 524.4,1040.9 526.3,1041.5 528.2,1042.0 530.2,1042.6 532.1,1043.0 534.1,1043.4 536.0,1043.8 538.0,1044.1 540.0,1044.3 542.0,1044.5 544.0,1044.6 546.0,1044.8 548.0,1044.9 550.0,1045.1 552.0,1045.2 554.0,1045.3 556.0,1045.4 558.0,1045.5 560.0,1045.6 562.0,1045.7 564.0,1045.9 566.0,1046.0 567.9,1046.1 569.9,1046.2 571.9,1046.3 573.9,1046.4 575.9,1046.6 577.9,1046.7 579.9,1046.9 581.9,1047.0 583.9,1047.2 585.9,1047.3 587.9,1047.5 589.9,1047.6 591.9,1047.8 593.9,1048.0 595.9,1048.1 597.9,1048.3 599.9,1048.4 601.9,1048.6 603.8,1048.7 605.8,1048.9 607.8,1049.0 609.8,1049.1 611.8,1049.3 613.8,1049.4 615.8,1049.5 617.8,1049.6 619.8,1049.7 621.8,1049.8 623.8,1049.9 625.8,1049.9 627.8,1050.0 629.8,1050.1 631.8,1050.1 633.8,1050.2 635.8,1050.2 637.8,1050.2 639.8,1050.3 641.8,1050.3 643.8,1050.3 645.8,1050.4 647.8,1050.4 649.8,1050.4 651.8,1050.5 653.8,1050.5 655.8,1050.5 657.8,1050.6 659.8,1050.6 661.8,1050.6 663.8,1050.7 665.8,1050.7 667.8,1050.8 669.8,1050.8 671.8,1050.9 673.8,1050.9 675.8,1051.0 677.8,1051.1 679.8,1051.2 681.8,1051.3 683.8,1051.5 685.8,1051.7 687.8,1051.9 689.7,1052.2 691.7,1052.4 693.7,1052.7 695.7,1053.0 697.7,1053.3 699.6,1053.6 701.6,1053.9 703.6,1054.2 705.6,1054.5 707.6,1054.7 709.5,1055.0 711.5,1055.1 713.5,1055.3 715.5,1055.4 717.5,1055.5 719.5,1055.6 721.5,1055.7 723.5,1055.8 725.5,1055.9 727.5,1056.0 729.5,1056.0 731.5,1056.1 733.5,1056.2 735.5,1056.3 737.5,1056.3 739.5,1056.4 741.5,1056.5 743.5,1056.6 745.5,1056.7 747.5,1056.8 749.5,1057.0 751.5,1057.1 753.5,1057.2 755.5,1057.4 757.5,1057.6 759.5,1057.8 761.5,1058.0 763.4,1058.2 765.4,1058.4 767.4,1058.6 769.4,1058.9 771.4,1059.2 773.3,1059.5 775.3,1059.9 777.3,1060.4 779.2,1060.9 781.1,1061.4 783.0,1062.0 784.9,1062.7 786.8,1063.3 788.7,1064.0 790.5,1064.8 792.3,1065.7 794.1,1066.6 795.9,1067.5 797.6,1068.5 799.3,1069.6 801.0,1070.6 802.7,1071.7 804.4,1072.8 806.0,1073.9 807.7,1075.0 809.4,1076.1 811.1,1077.2 812.7,1078.3 814.4,1079.4 816.0,1080.6 817.6,1081.8 819.2,1083.0 820.8,1084.2 822.3,1085.5 823.8,1086.8 825.3,1088.1 826.8,1089.5 828.2,1091.0 829.5,1092.4 830.8,1093.9 832.1,1095.5 833.4,1097.0 834.6,1098.6 835.9,1100.1 837.1,1101.7 838.4,1103.2 839.7,1104.8 841.0,1106.3 842.4,1107.7 843.8,1109.2 845.2,1110.6 846.6,1112.0 847.9,1113.5 849.3,1115.0 850.6,1116.5 851.8,1118.1 852.9,1119.7 853.9,1121.4 854.8,1123.2 855.7,1125.0 856.4,1126.9 857.2,1128.8 857.8,1130.6 858.5,1132.5 859.1,1134.4 859.7,1136.3 860.4,1138.2 861.0,1140.1 861.6,1142.0 862.2,1143.9 862.9,1145.8 863.5,1147.7 864.1,1149.6 864.7,1151.5 865.3,1153.4 865.9,1155.3 866.5,1157.3 867.0,1159.2 867.5,1161.1 868.0,1163.1 868.4,1165.0 869.0,1167.5 869.5,1170.0 870.0,1172.5 870.5,1175.1 870.9,1177.7 871.3,1180.5 871.7,1183.2 872.0,1186.0 872.2,1188.9 872.5,1191.8 872.7,1194.8 873.0,1197.9 873.2,1201.0 873.4,1204.1 873.6,1207.4 873.9,1210.6 874.1,1214.0 874.3,1217.4 874.6,1220.8 874.9,1224.4 875.1,1227.9 875.4,1231.6 875.6,1235.3 875.9,1239.1 876.2,1243.0 876.4,1246.9 876.7,1250.9 877.0,1255.0 877.3,1259.2 877.6,1263.4 877.9,1267.7 878.2,1272.1 878.5,1276.6 878.9,1281.1 879.2,1285.8 879.5,1290.5 879.8,1295.3 880.1,1300.2 880.5,1305.2 880.8,1310.3 881.1,1315.6 881.5,1321.0 881.8,1326.5 882.2,1332.2 882.5,1338.1 882.8,1344.1 883.2,1350.3 883.5,1356.6 883.9,1363.1 884.2,1369.8 885.2,1389.1 885.2,1402.7 885.7,1416.4 885.7,1430.5" fill="none" stroke="#FFD700" stroke-width="2" marker-start="url(#ms)" marker-mid="url(#ms)" marker-end="url(#ms)"/>
<path d="M164.5,918.5 L165.2,918.9 L166.0,919.3 L166.7,919.6 L167.4,920.0 L168.2,920.4 L168.9,920.8 L169.7,921.1 L170.4,921.5 L171.1,921.9 L171.9,922.3 L172.6,922.6 L173.4,923.0 L174.1,923.4 L174.8,923.8 L175.6,924.1 L176.3,924.5 L177.1,924.9 L177.8,925.2 L178.5,925.6 L179.3,926.0 L180.0,926.3 L180.8,926.7 L181.5,927.1 L182.3,927.4 L183.0,927.8 L183.7,928.2 L184.5,928.5 L185.2,928.9 L186.0,929.3 L186.7,929.6 L187.5,930.0 L188.2,930.3 L189.0,930.7 L189.7,931.1 L190.4,931.4 L191.2,931.8 L191.9,932.1 L192.7,932.5 L193.4,932.9 L194.2,933.2 L194.9,933.6 L195.7,933.9 L196.4,934.3 L197.2,934.6 L197.9,935.0 L198.7,935.4 L199.4,935.7 L200.2,936.1 L200.9,936.4 L201.7,936.8 L202.4,937.1 L203.2,937.5 L203.9,937.8 L204.7,938.2 L205.4,938.5 L206.2,938.8 L206.9,939.2 L207.7,939.5 L208.4,939.9 L209.2,940.2 L209.9,940.6 L210.7,940.9 L211.4,941.2 L212.2,941.6 L213.0,941.9 L213.7,942.3 L214.5,942.6 L215.2,942.9 L216.0,943.3 L216.7,943.6 L217.5,943.9 L218.3,944.3 L219.0,944.6 L219.8,944.9 L220.5,945.3 L221.3,945.6 L222.0,945.9 L222.8,946.3 L223.6,946.6 L224.3,947.0 L225.1,947.3 L225.8,947.6 L226.6,948.0 L227.3,948.3 L228.1,948.6 L228.9,949.0 L229.6,949.3 L230.4,949.6 L231.1,950.0 L231.9,950.3 L232.6,950.7 L233.4,951.0 L234.1,951.3 L234.9,951.7 L235.7,952.0 L236.4,952.3 L237.2,952.7 L237.9,953.0 L238.7,953.4 L239.4,953.7 L240.2,954.1 L240.9,954.4 L241.7,954.8 L242.4,955.1 L243.2,955.5 L243.9,955.8 L244.7,956.2 L245.4,956.5 L246.2,956.9 L246.9,957.2 L247.7,957.6 L248.4,957.9 L249.2,958.3 L250.0,958.6 L250.7,959.0 L251.5,959.3 L252.2,959.7 L253.0,960.0 L253.7,960.3 L254.5,960.7 L255.2,961.0 L256.0,961.4 L256.7,961.7 L257.5,962.1 L258.2,962.4 L259.0,962.7 L259.7,963.1 L260.5,963.4 L261.3,963.8 L262.0,964.1 L262.8,964.4 L263.5,964.8 L264.3,965.1 L265.0,965.4 L265.8,965.7 L266.6,966.1 L267.3,966.4 L268.1,966.7 L268.9,967.0 L269.6,967.3 L270.4,967.6 L271.2,968.0 L271.9,968.3 L272.7,968.6 L273.5,968.9 L274.2,969.2 L275.0,969.5 L275.8,969.8 L276.5,970.1 L277.3,970.4 L278.1,970.7 L278.8,971.0 L279.6,971.3 L280.4,971.6 L281.2,971.9 L281.9,972.2 L282.7,972.5 L283.5,972.8 L284.3,973.1 L285.0,973.4 L285.8,973.7 L286.6,974.0 L287.4,974.2 L288.1,974.5 L288.9,974.8 L289.7,975.1 L290.5,975.4 L291.3,975.7 L292.0,976.0 L292.8,976.2 L293.6,976.5 L294.4,976.8 L295.2,977.1 L295.9,977.4 L296.7,977.6 L297.5,977.9 L298.3,978.2 L299.1,978.5 L299.8,978.8 L300.6,979.0 L301.4,979.3 L302.2,979.6 L303.0,979.8 L303.7,980.1 L304.5,980.4 L305.3,980.7 L306.1,980.9 L306.9,981.2 L307.7,981.4 L308.5,981.7 L309.2,981.9 L310.0,982.2 L310.8,982.4 L311.6,982.7 L312.4,982.9 L313.2,983.2 L314.0,983.4 L314.8,983.7 L315.6,983.9 L316.4,984.2 L317.2,984.4 L318.0,984.6 L318.7,984.9 L319.5,985.1 L320.3,985.4 L321.1,985.6 L321.9,985.8 L322.7,986.1 L323.5,986.3 L324.3,986.6 L325.1,986.8 L325.9,987.1 L326.7,987.3 L327.5,987.6 L328.3,987.8 L329.0,988.1 L329.8,988.3 L330.6,988.6 L331.4,988.8 L332.2,989.1 L333.0,989.4 L333.7,989.6 L334.5,989.9 L335.3,990.2 L336.1,990.5 L336.9,990.8 L337.6,991.0 L338.4,991.3 L339.2,991.6 L339.9,991.9 L340.7,992.3 L341.5,992.6 L342.2,992.9 L343.0,993.2 L343.8,993.5 L344.5,993.9 L345.3,994.2 L346.0,994.5 L346.8,994.9 L347.5,995.2 L348.3,995.6 L349.0,995.9 L349.8,996.3 L350.6,996.6 L351.3,996.9 L352.1,997.3 L352.8,997.6 L353.6,998.0 L354.3,998.3 L355.1,998.7 L355.8,999.0 L356.6,999.4 L357.4,999.7 L358.1,1000.0 L358.9,1000.3 L359.6,1000.7 L360.4,1001.0 L361.2,1001.3 L361.9,1001.6 L362.7,1001.9 L363.5,1002.2 L364.2,1002.5 L365.0,1002.9 L365.8,1003.2 L366.5,1003.5 L367.3,1003.8 L368.1,1004.1 L368.9,1004.4 L369.6,1004.7 L370.4,1005.0 L371.2,1005.3 L371.9,1005.6 L372.7,1005.9 L373.5,1006.2 L374.3,1006.5 L375.1,1006.8 L375.8,1007.1 L376.6,1007.4 L377.4,1007.7 L378.2,1007.9 L378.9,1008.2 L379.7,1008.5 L380.5,1008.8 L381.3,1009.0 L382.1,1009.3 L382.9,1009.6 L383.7,1009.8 L384.4,1010.1 L385.2,1010.3 L386.0,1010.5 L386.8,1010.8 L387.6,1011.0 L388.4,1011.2 L389.2,1011.4 L390.0,1011.6 L390.8,1011.8 L391.6,1012.0 L392.4,1012.2 L393.2,1012.4 L394.0,1012.6 L394.8,1012.8 L395.6,1013.0 L396.4,1013.1 L397.2,1013.3 L398.0,1013.5 L398.8,1013.7 L399.6,1013.8 L400.5,1014.0 L401.3,1014.1 L402.1,1014.3 L402.9,1014.5 L403.7,1014.6 L404.5,1014.8 L405.3,1014.9 L406.2,1015.1 L407.0,1015.2 L407.8,1015.4 L408.6,1015.5 L409.4,1015.7 L410.2,1015.8 L411.1,1016.0 L411.9,1016.1 L412.7,1016.3 L413.5,1016.5 L414.3,1016.6 L415.1,1016.8 L416.0,1016.9 L416.8,1017.1 L417.6,1017.2 L418.4,1017.4 L419.2,1017.6 L420.0,1017.7 L420.8,1017.9 L421.6,1018.1 L422.5,1018.2 L423.3,1018.4 L424.1,1018.6 L424.9,1018.8 L425.7,1018.9 L426.5,1019.1 L427.3,1019.3 L428.1,1019.5 L428.9,1019.7 L429.7,1019.9 L430.5,1020.1 L431.3,1020.3 L432.1,1020.4 L433.0,1020.6 L433.8,1020.8 L434.6,1021.0 L435.4,1021.2 L436.2,1021.4 L437.0,1021.6 L437.8,1021.8 L438.6,1022.0 L439.4,1022.2 L440.2,1022.4 L441.0,1022.6 L441.8,1022.8 L442.6,1023.0 L443.4,1023.2 L444.2,1023.3 L445.0,1023.5 L445.8,1023.7 L446.7,1023.9 L447.5,1024.1 L448.3,1024.3 L449.1,1024.4 L449.9,1024.6 L450.7,1024.8 L451.5,1025.0 L452.3,1025.1 L453.1,1025.3 L453.9,1025.4 L454.8,1025.6 L455.6,1025.8 L456.4,1025.9 L457.2,1026.1 L458.0,1026.2 L458.8,1026.3 L459.6,1026.5 L460.5,1026.6 L461.3,1026.7 L462.1,1026.8 L462.9,1027.0 L463.7,1027.1 L464.6,1027.2 L465.4,1027.3 L466.2,1027.4 L467.0,1027.5 L467.8,1027.7 L468.7,1027.8 L469.5,1027.9 L470.3,1028.0 L471.1,1028.1 L471.9,1028.2 L472.8,1028.3 L473.6,1028.5 L474.4,1028.6 L475.2,1028.7 L476.0,1028.8 L476.9,1029.0 L477.7,1029.1 L478.5,1029.2 L479.3,1029.4 L480.1,1029.5 L480.9,1029.7 L481.7,1029.8 L482.6,1030.0 L483.4,1030.1 L484.2,1030.3 L485.0,1030.5 L485.8,1030.6 L486.6,1030.8 L487.4,1031.0 L488.2,1031.2 L489.0,1031.3 L489.8,1031.5 L490.7,1031.7 L491.5,1031.9 L492.3,1032.1 L493.1,1032.3 L493.9,1032.4 L494.7,1032.6 L495.5,1032.8 L496.3,1033.0 L497.1,1033.2 L497.9,1033.4 L498.7,1033.6 L499.5,1033.8 L500.3,1034.0 L501.1,1034.2 L501.9,1034.4 L502.7,1034.6 L503.5,1034.8 L504.3,1035.0 L505.2,1035.2 L506.0,1035.4 L506.8,1035.6 L507.6,1035.8 L508.4,1036.0 L509.2,1036.2 L510.0,1036.4 L510.8,1036.6 L511.6,1036.9 L512.4,1037.1 L513.2,1037.3 L514.0,1037.6 L514.8,1037.8 L515.6,1038.1 L516.4,1038.3 L517.1,1038.6 L517.9,1038.8 L518.7,1039.1 L519.5,1039.4 L520.3,1039.6 L521.1,1039.9 L521.9,1040.1 L522.7,1040.4 L523.5,1040.6 L524.3,1040.9 L525.1,1041.1 L525.9,1041.4 L526.7,1041.6 L527.5,1041.8 L528.3,1042.1 L529.1,1042.3 L529.9,1042.5 L530.7,1042.7 L531.5,1042.9 L532.3,1043.1 L533.1,1043.2 L533.9,1043.4 L534.7,1043.6 L535.5,1043.7 L536.3,1043.8 L537.1,1043.9 L537.9,1044.0 L538.8,1044.1 L539.6,1044.2 L540.4,1044.3 L541.2,1044.4 L542.0,1044.5 L542.8,1044.5 L543.6,1044.6 L544.5,1044.7 L545.3,1044.7 L546.1,1044.8 L546.9,1044.9 L547.8,1044.9 L548.6,1045.0 L549.4,1045.0 L550.2,1045.1 L551.1,1045.1 L551.9,1045.2 L552.7,1045.2 L553.5,1045.3 L554.4,1045.3 L555.2,1045.4 L556.0,1045.4 L556.9,1045.5 L557.7,1045.5 L558.5,1045.6 L559.4,1045.6 L560.2,1045.7 L561.0,1045.7 L561.8,1045.7 L562.7,1045.8 L563.5,1045.8 L564.3,1045.9 L565.2,1045.9 L566.0,1046.0 L566.8,1046.0 L567.7,1046.1 L568.5,1046.1 L569.3,1046.1 L570.1,1046.2 L571.0,1046.2 L571.8,1046.3 L572.6,1046.3 L573.5,1046.4 L574.3,1046.5 L575.1,1046.5 L575.9,1046.6 L576.8,1046.6 L577.6,1046.7 L578.4,1046.8 L579.2,1046.8 L580.1,1046.9 L580.9,1046.9 L581.7,1047.0 L582.5,1047.1 L583.4,1047.1 L584.2,1047.2 L585.0,1047.3 L585.8,1047.3 L586.7,1047.4 L587.5,1047.4 L588.3,1047.5 L589.2,1047.6 L590.0,1047.6 L590.8,1047.7 L591.6,1047.8 L592.5,1047.8 L593.3,1047.9 L594.1,1048.0 L594.9,1048.0 L595.8,1048.1 L596.6,1048.2 L597.4,1048.2 L598.2,1048.3 L599.1,1048.4 L599.9,1048.4 L600.7,1048.5 L601.5,1048.5 L602.4,1048.6 L603.2,1048.7 L604.0,1048.7 L604.8,1048.8 L605.7,1048.9 L606.5,1048.9 L607.3,1049.0 L608.1,1049.0 L609.0,1049.1 L609.8,1049.1 L610.6,1049.2 L611.5,1049.2 L612.3,1049.3 L613.1,1049.3 L613.9,1049.4 L614.8,1049.4 L615.6,1049.5 L616.4,1049.5 L617.2,1049.6 L618.1,1049.6 L618.9,1049.7 L619.7,1049.7 L620.5,1049.7 L621.4,1049.8 L622.2,1049.8 L623.0,1049.8 L623.9,1049.9 L624.7,1049.9 L625.5,1049.9 L626.3,1050.0 L627.2,1050.0 L628.0,1050.0 L628.8,1050.0 L629.6,1050.0 L630.5,1050.1 L631.3,1050.1 L632.1,1050.1 L633.0,1050.1 L633.8,1050.2 L634.6,1050.2 L635.4,1050.2 L636.3,1050.2 L637.1,1050.2 L637.9,1050.2 L638.8,1050.3 L639.6,1050.3 L640.4,1050.3 L641.2,1050.3 L642.1,1050.3 L642.9,1050.3 L643.7,1050.3 L644.6,1050.4 L645.4,1050.4 L646.2,1050.4 L647.0,1050.4 L647.9,1050.4 L648.7,1050.4 L649.5,1050.4 L650.4,1050.4 L651.2,1050.5 L652.0,1050.5 L652.8,1050.5 L653.7,1050.5 L654.5,1050.5 L655.3,1050.5 L656.2,1050.5 L657.0,1050.5 L657.8,1050.6 L658.6,1050.6 L659.5,1050.6 L660.3,1050.6 L661.1,1050.6 L662.0,1050.6 L662.8,1050.6 L663.6,1050.7 L664.4,1050.7 L665.3,1050.7 L666.1,1050.7 L666.9,1050.7 L667.8,1050.8 L668.6,1050.8 L669.4,1050.8 L670.2,1050.8 L671.1,1050.8 L671.9,1050.9 L672.7,1050.9 L673.5,1050.9 L674.4,1050.9 L675.2,1051.0 L676.0,1051.0 L676.8,1051.0 L677.7,1051.1 L678.5,1051.1 L679.3,1051.1 L680.1,1051.2 L681.0,1051.2 L681.8,1051.3 L682.6,1051.3 L683.4,1051.4 L684.3,1051.5 L685.1,1051.6 L685.9,1051.7 L686.7,1051.8 L687.5,1051.9 L688.4,1052.0 L689.2,1052.1 L690.0,1052.2 L690.8,1052.3 L691.7,1052.4 L692.5,1052.5 L693.3,1052.7 L694.1,1052.8 L694.9,1052.9 L695.8,1053.0 L696.6,1053.2 L697.4,1053.3 L698.2,1053.4 L699.0,1053.5 L699.9,1053.7 L700.7,1053.8 L701.5,1053.9 L702.3,1054.0 L703.1,1054.1 L704.0,1054.3 L704.8,1054.4 L705.6,1054.5 L706.4,1054.6 L707.3,1054.7 L708.1,1054.8 L708.9,1054.9 L709.7,1055.0 L710.5,1055.1 L711.4,1055.1 L712.2,1055.2 L713.0,1055.3 L713.8,1055.3 L714.7,1055.4 L715.5,1055.4 L716.3,1055.5 L717.1,1055.5 L718.0,1055.6 L718.8,1055.6 L719.6,1055.6 L720.5,1055.7 L721.3,1055.7 L722.1,1055.8 L722.9,1055.8 L723.8,1055.8 L724.6,1055.9 L725.4,1055.9 L726.2,1055.9 L727.1,1056.0 L727.9,1056.0 L728.7,1056.0 L729.6,1056.1 L730.4,1056.1 L731.2,1056.1 L732.0,1056.1 L732.9,1056.2 L733.7,1056.2 L734.5,1056.2 L735.4,1056.3 L736.2,1056.3 L737.0,1056.3 L737.8,1056.4 L738.7,1056.4 L739.5,1056.4 L740.3,1056.5 L741.1,1056.5 L742.0,1056.5 L742.8,1056.6 L743.6,1056.6 L744.5,1056.7 L745.3,1056.7 L746.1,1056.7 L746.9,1056.8 L747.8,1056.8 L748.6,1056.9 L749.4,1057.0 L750.2,1057.0 L751.1,1057.1 L751.9,1057.1 L752.7,1057.2 L753.5,1057.2 L754.4,1057.3 L755.2,1057.4 L756.0,1057.4 L756.9,1057.5 L757.7,1057.6 L758.5,1057.7 L759.3,1057.7 L760.2,1057.8 L761.0,1057.9 L761.8,1058.0 L762.7,1058.1 L763.5,1058.2 L764.3,1058.3 L765.1,1058.4 L765.9,1058.5 L766.8,1058.6 L767.6,1058.7 L768.4,1058.8 L769.2,1058.9 L770.0,1059.0 L770.8,1059.1 L771.7,1059.2 L772.5,1059.4 L773.3,1059.5 L774.1,1059.7 L774.9,1059.8 L775.7,1060.0 L776.5,1060.2 L777.3,1060.4 L778.1,1060.6 L779.0,1060.8 L779.8,1061.0 L780.6,1061.3 L781.4,1061.5 L782.2,1061.8 L783.0,1062.0 L783.7,1062.3 L784.5,1062.5 L785.3,1062.8 L786.1,1063.1 L786.9,1063.4 L787.6,1063.6 L788.4,1063.9 L789.1,1064.2 L789.9,1064.5 L790.7,1064.9 L791.4,1065.2 L792.1,1065.6 L792.9,1065.9 L793.6,1066.3 L794.3,1066.7 L795.1,1067.1 L795.8,1067.5 L796.5,1067.9 L797.3,1068.3 L798.0,1068.7 L798.7,1069.2 L799.4,1069.6 L800.1,1070.1 L800.8,1070.5 L801.5,1070.9 L802.2,1071.4 L802.9,1071.9 L803.6,1072.3 L804.3,1072.8 L805.0,1073.2 L805.7,1073.7 L806.4,1074.1 L807.1,1074.6 L807.8,1075.0 L808.5,1075.5 L809.2,1075.9 L809.9,1076.4 L810.6,1076.8 L811.3,1077.3 L812.0,1077.8 L812.6,1078.3 L813.3,1078.7 L814.0,1079.2 L814.7,1079.7 L815.4,1080.2 L816.1,1080.7 L816.7,1081.1 L817.4,1081.6 L818.1,1082.1 L818.7,1082.6 L819.4,1083.2 L820.0,1083.7 L820.7,1084.2 L821.3,1084.7 L822.0,1085.2 L822.6,1085.8 L823.2,1086.3 L823.9,1086.8 L824.5,1087.4 L825.1,1087.9 L825.7,1088.5 L826.3,1089.0 L826.8,1089.6 L827.4,1090.2 L828.0,1090.8 L828.5,1091.4 L829.1,1092.0 L829.7,1092.6 L830.2,1093.2 L830.7,1093.8 L831.3,1094.5 L831.8,1095.1 L832.3,1095.8 L832.9,1096.4 L833.4,1097.0 L833.9,1097.7 L834.4,1098.3 L835.0,1099.0 L835.5,1099.7 L836.0,1100.3 L836.5,1101.0 L837.0,1101.6 L837.6,1102.3 L838.1,1102.9 L838.6,1103.5 L839.2,1104.2 L839.7,1104.8 L840.2,1105.4 L840.8,1106.0 L841.4,1106.7 L841.9,1107.3 L842.5,1107.9 L843.1,1108.5 L843.7,1109.1 L844.3,1109.7 L844.9,1110.3 L845.5,1110.9 L846.1,1111.5 L846.7,1112.1 L847.2,1112.8 L847.8,1113.4 L848.4,1114.0 L849.0,1114.6 L849.5,1115.2 L850.0,1115.9 L850.6,1116.5 L851.1,1117.1 L851.6,1117.8 L852.0,1118.4 L852.5,1119.1 L852.9,1119.8 L853.4,1120.4 L853.8,1121.1 L854.1,1121.8 L854.5,1122.5 L854.8,1123.2 L855.2,1124.0 L855.5,1124.7 L855.9,1125.5 L856.2,1126.2 L856.5,1127.0 L856.8,1127.8 L857.1,1128.5 L857.4,1129.3 L857.7,1130.1 L857.9,1130.9 L858.2,1131.7 L858.5,1132.5 L858.7,1133.3 L859.0,1134.1 L859.3,1134.9 L859.5,1135.7 L859.8,1136.5 L860.1,1137.3 L860.3,1138.1 L860.6,1138.9 L860.8,1139.7 L861.1,1140.5 L861.4,1141.3 L861.6,1142.0 L861.9,1142.8 L862.1,1143.6 L862.4,1144.4 L862.7,1145.2 L862.9,1146.0 L863.2,1146.8 L863.5,1147.5 L863.7,1148.3 L864.0,1149.1 L864.2,1149.9 L864.5,1150.7 L864.7,1151.5 L865.0,1152.3 L865.2,1153.1 L865.5,1153.9 L865.7,1154.7 L866.0,1155.5 L866.2,1156.3 L866.4,1157.1 L866.6,1157.8 L866.9,1158.6 L867.1,1159.4 L867.3,1160.2 L867.5,1161.0 L867.7,1161.8 L867.9,1162.6 L868.1,1163.5 L868.2,1164.3 L868.4,1165.1 L868.6,1165.9 L868.8,1166.7 L869.0,1167.5" fill="none" stroke="#FFD700" stroke-width="15" stroke-linejoin="round" stroke-linecap="butt"/>
<polyline points="164.5,955.0 165.2,956.3 165.9,957.6 166.6,959.0 167.3,960.3 168.1,961.6 168.8,962.9 169.5,964.2 170.3,965.5 171.0,966.8 171.8,968.1 172.6,969.4 173.3,970.7 174.1,972.0 174.9,973.3 175.7,974.5 176.4,975.8 177.2,977.1 178.0,978.4 178.8,979.6 179.7,980.9 180.5,982.1 181.3,983.4 182.1,984.6 183.0,985.9 183.8,987.1 184.6,988.4 185.5,989.6 186.3,990.8 187.2,992.1 188.1,993.3 189.0,994.5 189.9,995.7 190.8,996.9 191.7,998.1 192.6,999.3 193.5,1000.5 194.4,1001.7 195.3,1002.8 196.3,1004.0 197.2,1005.2 198.1,1006.4 199.1,1007.6 200.0,1008.7 200.9,1009.9 201.9,1011.1 202.8,1012.2 203.7,1013.4 204.7,1014.6 205.6,1015.7 206.6,1016.9 207.5,1018.1 208.4,1019.3 209.3,1020.5 210.3,1021.6 211.2,1022.8 212.1,1024.0 213.1,1025.2 214.0,1026.3 215.0,1027.5 216.0,1028.6 217.0,1029.7 218.0,1030.8 219.1,1031.9 220.1,1032.9 221.2,1034.0 222.2,1035.0 223.3,1036.1 224.4,1037.1 225.5,1038.1 226.6,1039.1 227.8,1040.1 228.9,1041.1 230.1,1042.0 231.2,1043.0 232.4,1043.9 233.6,1044.8 234.8,1045.7 236.0,1046.6 237.3,1047.4 238.5,1048.2 239.8,1049.0 241.1,1049.8 242.4,1050.5 243.7,1051.3 245.0,1052.0 246.3,1052.7 247.6,1053.5 248.9,1054.2 250.2,1055.0 251.5,1055.8 252.8,1056.6 254.0,1057.4 255.3,1058.2 256.5,1059.0 257.8,1059.9 259.0,1060.7 260.3,1061.5 261.5,1062.4 262.8,1063.2 264.0,1064.1 265.2,1065.0 266.4,1065.9 267.6,1066.8 268.7,1067.7 269.9,1068.7 271.0,1069.8 272.0,1070.9 273.0,1072.0 273.9,1073.2 274.9,1074.3 275.9,1075.4 277.0,1076.5 278.1,1077.4 279.4,1078.3 280.7,1079.0 282.0,1079.6 283.4,1080.2 284.8,1080.8 286.2,1081.3 287.6,1081.8 289.1,1082.2 290.5,1082.6 292.0,1082.9 293.4,1083.2 294.9,1083.5 296.4,1083.7 297.9,1083.9 299.4,1084.0 300.9,1084.2 302.4,1084.3 303.9,1084.4 305.4,1084.5 306.9,1084.6 308.4,1084.8 309.9,1084.9 311.3,1085.1 312.8,1085.3 314.3,1085.6 315.8,1085.9 317.2,1086.3 318.7,1086.7 320.1,1087.1 321.6,1087.5 323.0,1087.9 324.4,1088.3 325.9,1088.7 327.3,1089.1 328.8,1089.5 330.3,1089.8 331.7,1090.0 333.2,1090.3 334.7,1090.5 336.2,1090.8 337.7,1091.0 339.1,1091.3 340.6,1091.6 342.1,1092.0 343.5,1092.4 344.9,1092.8 346.4,1093.3 347.8,1093.8 349.2,1094.3 350.5,1094.9 351.9,1095.6 353.2,1096.3 354.5,1097.1 355.7,1098.0 356.8,1099.1 357.8,1100.2 358.7,1101.3 359.6,1102.5 360.5,1103.7 361.3,1105.0 362.1,1106.3 362.9,1107.6 363.6,1108.8 364.4,1110.1 365.2,1111.4 365.9,1112.7 366.7,1114.0 367.4,1115.3 368.1,1116.7 368.7,1118.0 369.4,1119.4 370.0,1120.7 370.7,1122.1 371.3,1123.4 371.9,1124.8 372.5,1126.2 373.1,1127.5 373.8,1128.9 374.4,1130.3 375.0,1131.7 375.6,1133.0 376.2,1134.4 376.7,1135.8 377.3,1137.2 377.9,1138.6 378.4,1140.0 378.9,1141.4 379.4,1142.8 379.9,1144.2 380.3,1145.7 380.8,1147.1 381.2,1148.5 381.6,1150.0 382.0,1151.4 382.4,1152.9 382.7,1154.3 383.1,1155.8 383.4,1157.3 383.7,1158.7 384.0,1160.2 384.3,1161.7 384.6,1163.1 384.9,1164.6 385.1,1166.1 385.4,1167.6 385.6,1169.0 385.9,1170.5 386.1,1172.0 386.3,1173.5 386.5,1175.0 386.7,1176.5 386.9,1178.0 387.1,1179.4 387.2,1180.9 387.4,1182.4 387.6,1183.9 387.7,1185.4 387.9,1186.9 388.0,1188.4 388.2,1189.9 388.3,1191.4 388.4,1192.9 388.6,1194.4 388.7,1196.0 388.8,1197.6 389.0,1199.2 389.1,1200.8 389.2,1202.4 389.4,1204.1 389.5,1205.8 389.7,1207.5 389.8,1209.3 389.9,1211.0 390.0,1212.8 390.2,1214.6 390.3,1216.5 390.4,1218.3 390.5,1220.2 390.6,1222.2 390.7,1224.1 390.8,1226.1 390.9,1228.1 391.0,1230.1 391.2,1233.4 391.3,1236.7 391.5,1240.0 391.6,1243.4 391.7,1246.7 391.8,1250.2 391.9,1253.6 392.0,1257.1 392.0,1260.6 392.1,1264.1 392.2,1267.7 392.2,1271.3 392.3,1274.9 392.4,1278.6 392.4,1282.3 392.5,1286.0 392.6,1289.7 392.6,1293.5 392.7,1297.4 392.8,1301.2 392.8,1305.1 392.9,1309.0 393.0,1313.0 393.1,1317.0 393.2,1321.0 393.2,1325.1 393.3,1329.2 393.4,1333.4 393.5,1337.5 393.6,1341.8 393.6,1346.0 393.7,1350.3 393.8,1354.6 393.8,1359.0 393.9,1363.4 394.0,1367.9 394.1,1372.3 394.1,1376.9 394.2,1381.4 394.3,1386.0 394.3,1390.7 394.4,1395.4 394.5,1400.1 394.5,1404.9 394.6,1409.7 394.6,1414.5 394.6,1419.4 394.7,1424.4 394.7,1429.3 394.7,1434.4 394.7,1439.4 394.8,1444.6 394.8,1449.7 394.8,1454.9 394.8,1460.2 394.8,1465.5" fill="none" stroke="#FF8C00" stroke-width="2" marker-start="url(#mt)" marker-mid="url(#mt)" marker-end="url(#mt)"/>
<path d="M164.5,955.0 L164.7,955.5 L165.0,955.9 L165.2,956.4 L165.5,956.9 L165.7,957.3 L166.0,957.8 L166.2,958.2 L166.5,958.7 L166.7,959.2 L167.0,959.6 L167.2,960.1 L167.5,960.5 L167.7,961.0 L168.0,961.4 L168.2,961.9 L168.5,962.4 L168.8,962.8 L169.0,963.3 L169.3,963.7 L169.5,964.2 L169.8,964.6 L170.0,965.1 L170.3,965.5 L170.6,966.0 L170.8,966.4 L171.1,966.9 L171.3,967.3 L171.6,967.8 L171.9,968.2 L172.1,968.7 L172.4,969.1 L172.7,969.6 L172.9,970.0 L173.2,970.5 L173.5,970.9 L173.7,971.4 L174.0,971.8 L174.3,972.3 L174.5,972.7 L174.8,973.2 L175.1,973.6 L175.4,974.1 L175.6,974.5 L175.9,975.0 L176.2,975.4 L176.5,975.8 L176.7,976.3 L177.0,976.7 L177.3,977.2 L177.6,977.6 L177.8,978.0 L178.1,978.5 L178.4,978.9 L178.7,979.4 L179.0,979.8 L179.2,980.2 L179.5,980.7 L179.8,981.1 L180.1,981.5 L180.4,982.0 L180.7,982.4 L180.9,982.9 L181.2,983.3 L181.5,983.7 L181.8,984.2 L182.1,984.6 L182.4,985.0 L182.7,985.5 L182.9,985.9 L183.2,986.3 L183.5,986.7 L183.8,987.2 L184.1,987.6 L184.4,988.0 L184.7,988.5 L185.0,988.9 L185.3,989.3 L185.6,989.7 L185.9,990.2 L186.2,990.6 L186.5,991.0 L186.8,991.4 L187.1,991.9 L187.4,992.3 L187.7,992.7 L188.0,993.1 L188.3,993.6 L188.6,994.0 L188.9,994.4 L189.2,994.8 L189.5,995.2 L189.8,995.7 L190.1,996.1 L190.5,996.5 L190.8,996.9 L191.1,997.3 L191.4,997.7 L191.7,998.2 L192.0,998.6 L192.3,999.0 L192.7,999.4 L193.0,999.8 L193.3,1000.2 L193.6,1000.6 L193.9,1001.1 L194.3,1001.5 L194.6,1001.9 L194.9,1002.3 L195.2,1002.7 L195.5,1003.1 L195.9,1003.5 L196.2,1003.9 L196.5,1004.3 L196.8,1004.8 L197.2,1005.2 L197.5,1005.6 L197.8,1006.0 L198.1,1006.4 L198.5,1006.8 L198.8,1007.2 L199.1,1007.6 L199.4,1008.0 L199.8,1008.4 L200.1,1008.8 L200.4,1009.2 L200.7,1009.7 L201.1,1010.1 L201.4,1010.5 L201.7,1010.9 L202.0,1011.3 L202.4,1011.7 L202.7,1012.1 L203.0,1012.5 L203.3,1012.9 L203.7,1013.3 L204.0,1013.7 L204.3,1014.1 L204.7,1014.5 L205.0,1014.9 L205.3,1015.4 L205.6,1015.8 L206.0,1016.2 L206.3,1016.6 L206.6,1017.0 L206.9,1017.4 L207.3,1017.8 L207.6,1018.2 L207.9,1018.6 L208.2,1019.0 L208.5,1019.4 L208.9,1019.9 L209.2,1020.3 L209.5,1020.7 L209.8,1021.1 L210.2,1021.5 L210.5,1021.9 L210.8,1022.3 L211.1,1022.7 L211.5,1023.1 L211.8,1023.6 L212.1,1024.0 L212.4,1024.4 L212.8,1024.8 L213.1,1025.2 L213.4,1025.6 L213.8,1026.0 L214.1,1026.4 L214.4,1026.8 L214.8,1027.2 L215.1,1027.6 L215.4,1028.0 L215.8,1028.4 L216.1,1028.8 L216.5,1029.1 L216.8,1029.5 L217.2,1029.9 L217.5,1030.3 L217.9,1030.7 L218.2,1031.0 L218.6,1031.4 L219.0,1031.8 L219.3,1032.1 L219.7,1032.5 L220.0,1032.9 L220.4,1033.3 L220.8,1033.6 L221.2,1034.0 L221.5,1034.4 L221.9,1034.7 L222.3,1035.1 L222.7,1035.4 L223.0,1035.8 L223.4,1036.2 L223.8,1036.5 L224.2,1036.9 L224.6,1037.2 L225.0,1037.6 L225.3,1038.0 L225.7,1038.3 L226.1,1038.7 L226.5,1039.0 L226.9,1039.4 L227.3,1039.7 L227.7,1040.0 L228.1,1040.4 L228.5,1040.7 L228.9,1041.1 L229.3,1041.4 L229.7,1041.7 L230.1,1042.1 L230.5,1042.4 L230.9,1042.7 L231.3,1043.1 L231.7,1043.4 L232.1,1043.7 L232.5,1044.0 L233.0,1044.3 L233.4,1044.6 L233.8,1045.0 L234.2,1045.3 L234.6,1045.6 L235.0,1045.9 L235.4,1046.2 L235.9,1046.5 L236.3,1046.8 L236.7,1047.1 L237.2,1047.3 L237.6,1047.6 L238.0,1047.9 L238.5,1048.2 L238.9,1048.5 L239.3,1048.7 L239.8,1049.0 L240.2,1049.3 L240.7,1049.5 L241.1,1049.8 L241.6,1050.1 L242.0,1050.3 L242.5,1050.6 L242.9,1050.8 L243.4,1051.1 L243.9,1051.4 L244.3,1051.6 L244.8,1051.9 L245.2,1052.1 L245.7,1052.4 L246.1,1052.6 L246.6,1052.9 L247.1,1053.2 L247.5,1053.4 L248.0,1053.7 L248.4,1053.9 L248.9,1054.2 L249.3,1054.5 L249.8,1054.7 L250.2,1055.0 L250.7,1055.3 L251.1,1055.5 L251.6,1055.8 L252.0,1056.1 L252.4,1056.4 L252.9,1056.7 L253.3,1056.9 L253.7,1057.2 L254.2,1057.5 L254.6,1057.8 L255.1,1058.1 L255.5,1058.4 L255.9,1058.7 L256.4,1058.9 L256.8,1059.2 L257.3,1059.5 L257.7,1059.8 L258.1,1060.1 L258.6,1060.4 L259.0,1060.7 L259.4,1061.0 L259.9,1061.2 L260.3,1061.5 L260.7,1061.8 L261.2,1062.1 L261.6,1062.4 L262.0,1062.7 L262.5,1063.0 L262.9,1063.3 L263.3,1063.6 L263.7,1063.9 L264.2,1064.2 L264.6,1064.5 L265.0,1064.8 L265.4,1065.1 L265.8,1065.5 L266.3,1065.8 L266.7,1066.1 L267.1,1066.4 L267.5,1066.7 L267.9,1067.0 L268.3,1067.4 L268.7,1067.7 L269.1,1068.0 L269.5,1068.4 L269.9,1068.7 L270.3,1069.1 L270.6,1069.4 L271.0,1069.8 L271.4,1070.2 L271.7,1070.6 L272.1,1071.0 L272.4,1071.4 L272.8,1071.8 L273.2,1072.2 L273.5,1072.7 L273.9,1073.1 L274.2,1073.5 L274.6,1073.9 L274.9,1074.3 L275.3,1074.7 L275.6,1075.1 L276.0,1075.5 L276.3,1075.8 L276.7,1076.2 L277.1,1076.6 L277.5,1076.9 L277.8,1077.2 L278.2,1077.5 L278.6,1077.8 L279.0,1078.1 L279.5,1078.3 L279.9,1078.6 L280.3,1078.8 L280.8,1079.0 L281.2,1079.2 L281.7,1079.4 L282.1,1079.6 L282.6,1079.9 L283.1,1080.1 L283.5,1080.3 L284.0,1080.5 L284.5,1080.7 L285.0,1080.8 L285.5,1081.0 L286.0,1081.2 L286.5,1081.4 L287.0,1081.6 L287.5,1081.7 L288.0,1081.9 L288.6,1082.0 L289.1,1082.2 L289.6,1082.3 L290.1,1082.5 L290.6,1082.6 L291.2,1082.7 L291.7,1082.9 L292.2,1083.0 L292.7,1083.1 L293.2,1083.2 L293.7,1083.3 L294.2,1083.4 L294.8,1083.5 L295.3,1083.6 L295.8,1083.6 L296.3,1083.7 L296.8,1083.8 L297.3,1083.8 L297.8,1083.9 L298.3,1083.9 L298.9,1084.0 L299.4,1084.0 L299.9,1084.1 L300.4,1084.1 L300.9,1084.2 L301.5,1084.2 L302.0,1084.3 L302.5,1084.3 L303.0,1084.3 L303.5,1084.4 L304.1,1084.4 L304.6,1084.5 L305.1,1084.5 L305.6,1084.5 L306.2,1084.6 L306.7,1084.6 L307.2,1084.7 L307.7,1084.7 L308.3,1084.8 L308.8,1084.8 L309.3,1084.9 L309.8,1084.9 L310.3,1085.0 L310.8,1085.1 L311.4,1085.1 L311.9,1085.2 L312.4,1085.3 L312.9,1085.4 L313.4,1085.4 L313.9,1085.5 L314.4,1085.6 L314.9,1085.8 L315.4,1085.9 L315.9,1086.0 L316.4,1086.1 L316.9,1086.2 L317.5,1086.4 L318.0,1086.5 L318.5,1086.6 L319.0,1086.8 L319.5,1086.9 L320.0,1087.1 L320.5,1087.2 L321.0,1087.3 L321.5,1087.5 L322.0,1087.6 L322.5,1087.8 L323.0,1087.9 L323.5,1088.1 L324.0,1088.2 L324.5,1088.4 L325.0,1088.5 L325.5,1088.6 L326.0,1088.8 L326.5,1088.9 L327.0,1089.0 L327.5,1089.2 L328.0,1089.3 L328.5,1089.4 L329.1,1089.5 L329.6,1089.6 L330.1,1089.7 L330.6,1089.8 L331.1,1089.9 L331.6,1090.0 L332.1,1090.1 L332.6,1090.2 L333.2,1090.3 L333.7,1090.4 L334.2,1090.5 L334.7,1090.5 L335.2,1090.6 L335.8,1090.7 L336.3,1090.8 L336.8,1090.9 L337.3,1091.0 L337.8,1091.1 L338.3,1091.2 L338.8,1091.3 L339.4,1091.4 L339.9,1091.5 L340.4,1091.6 L340.9,1091.7 L341.4,1091.8 L341.9,1091.9 L342.4,1092.0 L342.9,1092.2 L343.4,1092.3 L343.9,1092.5 L344.4,1092.6 L344.9,1092.8 L345.4,1092.9 L345.9,1093.1 L346.4,1093.3 L346.9,1093.5 L347.5,1093.6 L348.0,1093.8 L348.5,1094.0 L349.0,1094.2 L349.5,1094.4 L350.0,1094.6 L350.4,1094.9 L350.9,1095.1 L351.4,1095.3 L351.9,1095.6 L352.3,1095.8 L352.8,1096.0 L353.2,1096.3 L353.6,1096.5 L354.0,1096.8 L354.4,1097.1 L354.8,1097.3 L355.2,1097.6 L355.5,1097.9 L355.9,1098.2 L356.3,1098.6 L356.6,1098.9 L357.0,1099.3 L357.3,1099.6 L357.7,1100.0 L358.0,1100.4 L358.3,1100.8 L358.7,1101.2 L359.0,1101.7 L359.3,1102.1 L359.6,1102.5 L359.9,1103.0 L360.2,1103.4 L360.5,1103.9 L360.8,1104.3 L361.1,1104.8 L361.4,1105.2 L361.7,1105.7 L362.0,1106.2 L362.3,1106.6 L362.6,1107.1 L362.9,1107.6 L363.1,1108.0 L363.4,1108.5 L363.7,1109.0 L364.0,1109.4 L364.2,1109.9 L364.5,1110.3 L364.8,1110.8 L365.0,1111.2 L365.3,1111.6 L365.6,1112.1 L365.8,1112.5 L366.1,1113.0 L366.3,1113.4 L366.6,1113.9 L366.8,1114.3 L367.1,1114.8 L367.3,1115.3 L367.6,1115.7 L367.8,1116.2 L368.0,1116.7 L368.3,1117.1 L368.5,1117.6 L368.8,1118.1 L369.0,1118.5 L369.2,1119.0 L369.4,1119.5 L369.7,1119.9 L369.9,1120.4 L370.1,1120.9 L370.3,1121.4 L370.6,1121.8 L370.8,1122.3 L371.0,1122.8 L371.2,1123.3 L371.4,1123.7 L371.7,1124.2 L371.9,1124.7 L372.1,1125.2 L372.3,1125.6 L372.5,1126.1 L372.7,1126.6 L372.9,1127.1 L373.1,1127.5 L373.4,1128.0 L373.6,1128.5 L373.8,1129.0 L374.0,1129.5 L374.2,1129.9 L374.4,1130.4 L374.6,1130.9 L374.8,1131.4 L375.0,1131.8 L375.3,1132.3 L375.5,1132.8 L375.7,1133.3 L375.9,1133.8 L376.1,1134.2 L376.3,1134.7 L376.5,1135.2 L376.7,1135.7 L376.9,1136.2 L377.1,1136.7 L377.3,1137.1 L377.5,1137.6 L377.7,1138.1 L377.9,1138.6 L378.1,1139.1 L378.2,1139.6 L378.4,1140.1 L378.6,1140.5 L378.8,1141.0 L379.0,1141.5 L379.1,1142.0 L379.3,1142.5 L379.5,1143.0 L379.6,1143.5 L379.8,1144.0 L380.0,1144.5 L380.1,1145.0 L380.3,1145.5 L380.4,1146.0 L380.6,1146.5 L380.7,1147.0 L380.9,1147.4 L381.0,1147.9 L381.2,1148.4 L381.3,1149.0 L381.4,1149.5 L381.6,1150.0 L381.7,1150.5 L381.9,1151.0 L382.0,1151.5 L382.1,1152.0 L382.3,1152.5 L382.4,1153.0 L382.5,1153.5 L382.6,1154.0 L382.8,1154.5 L382.9,1155.0 L383.0,1155.5 L383.1,1156.0 L383.3,1156.5 L383.4,1157.1 L383.5,1157.6 L383.6,1158.1 L383.7,1158.6 L383.8,1159.1 L383.9,1159.6 L384.0,1160.1 L384.1,1160.6 L384.2,1161.1 L384.3,1161.6 L384.4,1162.2 L384.5,1162.7 L384.6,1163.2 L384.7,1163.7 L384.8,1164.2 L384.9,1164.7 L385.0,1165.2 L385.1,1165.7 L385.2,1166.3 L385.3,1166.8 L385.3,1167.3 L385.4,1167.8 L385.5,1168.3 L385.6,1168.8 L385.7,1169.3 L385.7,1169.9 L385.8,1170.4 L385.9,1170.9 L386.0,1171.4 L386.1,1171.9 L386.1,1172.4 L386.2,1173.0 L386.3,1173.5 L386.4,1174.0 L386.4,1174.5 L386.5,1175.0 L386.6,1175.5 L386.6,1176.1 L386.7,1176.6 L386.8,1177.1 L386.8,1177.6 L386.9,1178.1 L387.0,1178.6 L387.0,1179.2 L387.1,1179.7 L387.1,1180.2 L387.2,1180.7 L387.3,1181.2 L387.3,1181.7 L387.4,1182.3 L387.4,1182.8 L387.5,1183.3 L387.5,1183.8 L387.6,1184.3 L387.7,1184.9 L387.7,1185.4 L387.8,1185.9 L387.8,1186.4 L387.9,1186.9 L387.9,1187.4 L388.0,1188.0 L388.0,1188.5 L388.1,1189.0 L388.1,1189.5 L388.2,1190.0 L388.2,1190.6 L388.3,1191.1 L388.3,1191.6 L388.4,1192.1 L388.4,1192.6 L388.5,1193.2 L388.5,1193.7 L388.5,1194.2 L388.6,1194.7 L388.6,1195.2 L388.7,1195.8 L388.7,1196.3 L388.8,1196.8 L388.8,1197.3 L388.9,1197.8 L388.9,1198.3 L388.9,1198.9 L389.0,1199.4 L389.0,1199.9 L389.1,1200.4 L389.1,1200.9 L389.2,1201.5 L389.2,1202.0 L389.2,1202.5 L389.3,1203.0 L389.3,1203.5 L389.4,1204.1 L389.4,1204.6 L389.5,1205.1 L389.5,1205.6 L389.5,1206.1 L389.6,1206.7 L389.6,1207.2 L389.7,1207.7 L389.7,1208.2 L389.7,1208.7 L389.8,1209.3 L389.8,1209.8 L389.9,1210.3 L389.9,1210.8 L389.9,1211.3 L390.0,1211.9 L390.0,1212.4 L390.1,1212.9 L390.1,1213.4 L390.1,1213.9 L390.2,1214.5 L390.2,1215.0 L390.2,1215.5 L390.3,1216.0 L390.3,1216.5 L390.3,1217.1 L390.4,1217.6 L390.4,1218.1 L390.4,1218.6 L390.5,1219.1 L390.5,1219.7 L390.5,1220.2 L390.6,1220.7 L390.6,1221.2 L390.6,1221.7 L390.6,1222.3 L390.7,1222.8 L390.7,1223.3 L390.7,1223.8 L390.7,1224.3 L390.8,1224.9 L390.8,1225.4 L390.8,1225.9 L390.9,1226.4 L390.9,1226.9 L390.9,1227.5 L390.9,1228.0 L391.0,1228.5 L391.0,1229.0 L391.0,1229.5 L391.0,1230.1 L391.1,1230.6 L391.1,1231.1 L391.1,1231.6 L391.1,1232.1 L391.2,1232.7 L391.2,1233.2 L391.2,1233.7 L391.2,1234.2 L391.2,1234.8 L391.3,1235.3 L391.3,1235.8 L391.3,1236.3 L391.3,1236.8 L391.4,1237.4 L391.4,1237.9 L391.4,1238.4 L391.4,1238.9 L391.4,1239.4 L391.5,1240.0" fill="none" stroke="#FF8C00" stroke-width="12.5" stroke-linejoin="round"/>
<polyline points="165.0,985.1 165.3,986.6 165.7,988.5 166.2,990.5 166.6,992.4 167.1,994.4 167.7,996.3 168.3,998.2 168.8,1000.1 169.5,1002.0 170.2,1003.9 171.0,1005.7 171.8,1007.6 172.6,1009.4 173.4,1011.2 174.2,1013.0 175.0,1014.9 175.7,1016.8 176.3,1018.7 176.8,1020.6 177.4,1022.5 177.9,1024.5 178.4,1026.4 178.9,1028.3 179.5,1030.2 180.1,1032.2 180.7,1034.1 181.4,1035.9 182.1,1037.8 182.8,1039.7 183.6,1041.5 184.4,1043.3 185.2,1045.2 186.0,1047.0 186.9,1048.8 187.7,1050.6 188.6,1052.4 189.4,1054.2 190.2,1056.1 191.0,1057.9 191.8,1059.7 192.6,1061.6 193.3,1063.5 194.0,1065.3 194.7,1067.2 195.4,1069.1 196.1,1070.9 196.8,1072.8 197.6,1074.6 198.4,1076.5 199.3,1078.3 200.3,1080.0 201.4,1081.7 202.5,1083.4 203.7,1085.0 204.9,1086.6 206.1,1088.1 207.3,1089.7 208.5,1091.3 209.7,1092.9 210.8,1094.6 211.9,1096.3 212.8,1098.0 213.8,1099.8 214.6,1101.6 215.5,1103.4 216.4,1105.2 217.3,1107.0 218.4,1108.7 219.5,1110.3 220.8,1111.9 222.2,1113.3 223.7,1114.6 225.3,1115.8 226.9,1117.0 228.5,1118.2 230.2,1119.3 231.9,1120.4 233.6,1121.4 235.4,1122.3 237.2,1123.2 238.9,1124.1 240.7,1125.1 242.3,1126.3 243.9,1127.5 245.5,1128.7 247.0,1130.0 248.4,1131.4 249.7,1133.0 250.8,1134.6 251.8,1136.3 252.8,1138.1 253.6,1139.9 254.4,1141.7 255.2,1143.6 255.9,1145.5 256.6,1147.3 257.2,1149.2 257.9,1151.1 258.4,1153.1 259.0,1155.0 259.5,1156.9 260.0,1158.8 260.5,1160.8 261.0,1162.7 261.4,1164.7 261.9,1166.6 262.3,1168.6 262.7,1170.5 263.1,1172.5 263.5,1174.5 263.8,1176.4 264.1,1178.4 264.4,1180.4 264.6,1182.4 264.9,1184.4 265.1,1186.3 265.3,1188.3 265.5,1190.3 265.7,1192.3 265.8,1194.3 266.0,1196.3 266.2,1198.3 266.4,1200.6 266.7,1203.6 266.9,1207.3 267.2,1211.9 267.5,1217.6 267.8,1224.8 268.0,1233.8 268.6,1245.2 268.9,1257.3 269.3,1271.4 269.7,1287.3 270.1,1315.1 270.5,1352.1 270.9,1396.3 271.1,1446.6" fill="none" stroke="#8B0000" stroke-width="2" marker-start="url(#mc)" marker-mid="url(#mc)" marker-end="url(#mc)"/>
<rect x="337.2" y="818.6" width="580.3" height="143.6" fill="#fff" stroke="#626262" stroke-width="1.3"/>
<line x1="337.2" y1="856.4" x2="917.5" y2="856.4" stroke="#626262" stroke-width="1.3"/>
<text x="627.3" y="847.7" font-size="25.7" text-anchor="middle" font-weight="bold" fill="#000" >Parallel cell stack model predictions</text>
<polyline points="343.6,876.1 370.6,876.1 398.1,876.1" fill="none" stroke="#8B0000" stroke-width="2.6" marker-mid="url(#mc)"/>
<text x="402.4" y="885.7" font-size="25.7" fill="#000" >single-cell</text>
<polyline points="343.6,909.4 370.6,909.4 398.1,909.4" fill="none" stroke="#FF8C00" stroke-width="2.6" marker-mid="url(#mt)"/>
<text x="402.4" y="919.0" font-size="25.7" fill="#000" >double-coated single-cell</text>
<polyline points="343.6,943.3 370.6,943.3 398.1,943.3" fill="none" stroke="#FFD700" stroke-width="2.6" marker-mid="url(#ms)"/>
<text x="402.4" y="952.9" font-size="25.7" fill="#000" >double-coated three-layers parallel cell stack</text>
<text x="326.5" y="1571.9" font-size="33.5" fill="#262626" xml:space="preserve">Parallel stack capacity, <tspan font-style="italic">Q</tspan> [Ah]</text>
<text x="76.6" y="1346.6" font-size="33.35" transform="rotate(-90 76.6 1346.6)" fill="#262626" xml:space="preserve">Parallel stack voltage, <tspan font-style="italic">V</tspan> [V]</text>
<text x="3.8" y="847.0" font-size="52" font-weight="bold" fill="#000" >(c)</text>
<rect x="1237.5" y="803.3" width="783.0" height="681.7" fill="#fff"/>
<line x1="1237.5" y1="803.3" x2="1237.5" y2="1485.0" stroke="#e3e3e3" stroke-width="1.2"/>
<line x1="1368.0" y1="803.3" x2="1368.0" y2="1485.0" stroke="#e3e3e3" stroke-width="1.2"/>
<line x1="1498.5" y1="803.3" x2="1498.5" y2="1485.0" stroke="#e3e3e3" stroke-width="1.2"/>
<line x1="1629.0" y1="803.3" x2="1629.0" y2="1485.0" stroke="#e3e3e3" stroke-width="1.2"/>
<line x1="1759.5" y1="803.3" x2="1759.5" y2="1485.0" stroke="#e3e3e3" stroke-width="1.2"/>
<line x1="1890.0" y1="803.3" x2="1890.0" y2="1485.0" stroke="#e3e3e3" stroke-width="1.2"/>
<line x1="2020.5" y1="803.3" x2="2020.5" y2="1485.0" stroke="#e3e3e3" stroke-width="1.2"/>
<line x1="1237.5" y1="803.3" x2="2020.5" y2="803.3" stroke="#e3e3e3" stroke-width="1.2"/>
<line x1="1237.5" y1="888.5" x2="2020.5" y2="888.5" stroke="#e3e3e3" stroke-width="1.2"/>
<line x1="1237.5" y1="973.7" x2="2020.5" y2="973.7" stroke="#e3e3e3" stroke-width="1.2"/>
<line x1="1237.5" y1="1059.0" x2="2020.5" y2="1059.0" stroke="#e3e3e3" stroke-width="1.2"/>
<line x1="1237.5" y1="1144.2" x2="2020.5" y2="1144.2" stroke="#e3e3e3" stroke-width="1.2"/>
<line x1="1237.5" y1="1229.4" x2="2020.5" y2="1229.4" stroke="#e3e3e3" stroke-width="1.2"/>
<line x1="1237.5" y1="1314.6" x2="2020.5" y2="1314.6" stroke="#e3e3e3" stroke-width="1.2"/>
<line x1="1237.5" y1="1399.8" x2="2020.5" y2="1399.8" stroke="#e3e3e3" stroke-width="1.2"/>
<path d="M1240.0,871.0 L1240.6,872.9 L1241.2,874.7 L1241.7,876.6 L1242.3,878.4 L1242.8,880.3 L1243.4,882.2 L1243.9,884.0 L1244.4,885.9 L1245.0,887.8 L1245.5,889.6 L1246.0,891.5 L1246.5,893.4 L1247.0,895.2 L1247.5,897.1 L1248.0,899.0 L1248.4,900.9 L1248.9,902.8 L1249.4,904.6 L1249.9,906.5 L1250.4,908.4 L1250.8,910.3 L1251.3,912.2 L1251.8,914.1 L1252.2,915.9 L1252.7,917.8 L1253.1,919.7 L1253.6,921.6 L1254.1,923.5 L1254.5,925.4 L1255.0,927.2 L1255.5,929.1 L1255.9,931.0 L1256.4,932.9 L1256.9,934.8 L1257.3,936.7 L1257.8,938.5 L1258.3,940.4 L1258.8,942.3 L1259.3,944.2 L1259.8,946.1 L1260.2,947.9 L1260.7,949.8 L1261.2,951.7 L1261.8,953.6 L1262.3,955.4 L1262.8,957.3 L1263.3,959.2 L1263.8,961.0 L1264.4,962.9 L1264.9,964.8 L1265.4,966.6 L1266.0,968.5 L1266.5,970.4 L1267.1,972.2 L1267.6,974.1 L1268.2,975.9 L1268.7,977.8 L1269.3,979.7 L1269.9,981.5 L1270.4,983.4 L1271.0,985.2 L1271.6,987.1 L1272.2,988.9 L1272.7,990.8 L1273.3,992.6 L1273.9,994.5 L1274.5,996.3 L1275.1,998.2 L1275.8,1000.0 L1276.4,1001.9 L1277.0,1003.7 L1277.7,1005.5 L1278.3,1007.3 L1279.0,1009.2 L1279.6,1011.0 L1280.3,1012.8 L1281.0,1014.6 L1281.7,1016.4 L1282.4,1018.2 L1283.1,1020.1 L1283.8,1021.9 L1284.5,1023.7 L1285.3,1025.5 L1286.0,1027.3 L1286.7,1029.0 L1287.5,1030.8 L1288.2,1032.6 L1288.9,1034.4 L1289.7,1036.2 L1290.4,1038.0 L1291.2,1039.8 L1291.9,1041.6 L1292.6,1043.4 L1293.3,1045.2 L1294.0,1047.1 L1294.7,1048.9 L1295.4,1050.7 L1296.0,1052.5 L1296.6,1054.4 L1297.2,1056.2 L1297.8,1058.0 L1298.4,1059.9 L1298.9,1061.8 L1299.4,1063.6 L1299.9,1065.5 L1300.4,1067.4 L1300.8,1069.3 L1301.3,1071.2 L1301.7,1073.1 L1302.1,1075.0 L1302.5,1076.9 L1302.9,1078.8 L1303.2,1080.7 L1303.6,1082.6 L1304.0,1084.5 L1304.3,1086.4 L1304.6,1088.3 L1305.0,1090.3 L1305.3,1092.2 L1305.6,1094.1 L1305.9,1096.0 L1306.2,1097.9 L1306.5,1099.8 L1306.8,1101.8 L1307.0,1103.7 L1307.3,1105.6 L1307.6,1107.5 L1307.8,1109.4 L1308.1,1111.4 L1308.3,1113.3 L1308.5,1115.2 L1308.8,1117.2 L1309.0,1119.1 L1309.2,1121.0 L1309.4,1122.9 L1309.6,1124.9 L1309.8,1126.8 L1309.9,1128.7 L1310.1,1130.7 L1310.3,1132.6 L1310.4,1134.5 L1310.6,1136.5 L1310.7,1138.4 L1310.9,1140.3 L1311.0,1142.3 L1311.1,1144.2 L1311.3,1146.2 L1311.4,1148.1 L1311.5,1150.0 L1311.6,1152.0 L1311.7,1153.9 L1311.8,1155.8 L1311.8,1157.8 L1311.9,1159.7 L1312.0,1161.7 L1312.1,1163.6 L1312.2,1165.5 L1312.2,1167.5 L1312.3,1169.4 L1312.3,1171.4 L1312.4,1173.3 L1312.5,1175.2 L1312.5,1177.2 L1312.6,1179.1 L1312.7,1181.1 L1312.7,1183.0 L1312.8,1184.9 L1312.8,1186.9 L1312.9,1188.8 L1313.0,1190.8 L1313.0,1192.7 L1313.1,1194.6 L1313.2,1196.6 L1313.2,1198.5 L1313.3,1200.5 L1313.4,1202.4 L1313.5,1204.3 L1313.5,1206.3 L1313.6,1208.2 L1313.7,1210.2 L1313.8,1212.1 L1313.9,1214.0 L1313.9,1216.0 L1314.0,1217.9 L1314.1,1219.8 L1314.2,1221.8 L1314.3,1223.7 L1314.4,1225.7 L1314.4,1227.6 L1314.5,1229.5 L1314.6,1231.5 L1314.7,1233.4 L1314.7,1235.4 L1314.8,1237.3 L1314.9,1239.2 L1315.0,1241.2 L1315.0,1243.1 L1315.1,1245.1 L1315.2,1247.0 L1315.2,1248.9 L1315.3,1250.9 L1315.4,1252.8 L1315.4,1254.8 L1315.5,1256.7 L1315.5,1258.6 L1315.6,1260.6 L1315.7,1262.5 L1315.7,1264.4 L1315.8,1266.4 L1315.8,1268.3 L1315.9,1270.3 L1315.9,1272.2 L1316.0,1274.1 L1316.0,1276.1 L1316.1,1278.0 L1316.1,1280.0 L1316.2,1281.9 L1316.3,1283.8 L1316.3,1285.8 L1316.4,1287.7 L1316.4,1289.7 L1316.5,1291.6 L1316.5,1293.5 L1316.6,1295.5 L1316.7,1297.4 L1316.7,1299.4 L1316.8,1301.3 L1316.9,1303.2 L1316.9,1305.2 L1317.0,1307.1 L1317.1,1309.1 L1317.1,1311.0 L1317.2,1312.9 L1317.2,1314.9 L1317.3,1316.8 L1317.4,1318.8 L1317.4,1320.7 L1317.5,1322.6 L1317.6,1324.6 L1317.6,1326.5 L1317.7,1328.5 L1317.7,1330.4 L1317.8,1332.3 L1317.8,1334.3 L1317.9,1336.2 L1317.9,1338.2 L1318.0,1340.1 L1318.0,1342.0 L1318.0,1344.0 L1318.1,1345.9 L1318.1,1347.9 L1318.1,1349.8 L1318.2,1351.7 L1318.2,1353.7 L1318.2,1355.6 L1318.2,1357.6 L1318.3,1359.5 L1318.3,1361.4 L1318.3,1363.4 L1318.3,1365.3 L1318.3,1367.3 L1318.3,1369.2 L1318.4,1371.1 L1318.4,1373.1 L1318.4,1375.0 L1318.4,1377.0 L1318.4,1378.9 L1318.4,1380.9 L1318.4,1382.8 L1318.4,1384.7 L1318.5,1386.7 L1318.5,1388.6 L1318.5,1390.6 L1318.5,1392.5 L1318.5,1394.4 L1318.5,1396.4 L1318.6,1398.3 L1318.6,1400.3 L1318.6,1402.2 L1318.6,1404.1 L1318.6,1406.1 L1318.7,1408.0 L1318.7,1410.0 L1318.7,1411.9 L1318.7,1413.8 L1318.8,1415.8 L1318.8,1417.7 L1318.9,1419.7 L1318.9,1421.6 L1318.9,1423.5 L1319.0,1425.5 L1319.0,1427.4 L1319.1,1429.4 L1319.2,1431.3 L1319.2,1433.2 L1319.3,1435.2 L1319.3,1437.1 L1319.4,1439.1 L1319.5,1441.0" fill="none" stroke="#8B0000" stroke-width="3.5" stroke-linejoin="round" stroke-linecap="butt" />
<path d="M1242.5,831.0 L1243.5,833.1 L1244.4,835.1 L1245.4,837.2 L1246.4,839.2 L1247.4,841.3 L1248.4,843.4 L1249.3,845.4 L1250.3,847.5 L1251.3,849.6 L1252.3,851.6 L1253.3,853.7 L1254.4,855.7 L1255.4,857.8 L1256.4,859.8 L1257.5,861.9 L1258.5,863.9 L1259.6,865.9 L1260.7,867.9 L1261.8,869.9 L1262.9,872.0 L1264.0,874.0 L1265.1,875.9 L1266.2,877.9 L1267.4,879.9 L1268.6,881.9 L1269.7,883.8 L1271.0,885.8 L1272.2,887.7 L1273.4,889.6 L1274.7,891.5 L1275.9,893.4 L1277.2,895.3 L1278.6,897.1 L1279.9,899.0 L1281.2,900.9 L1282.6,902.7 L1283.9,904.5 L1285.3,906.4 L1286.6,908.2 L1288.0,910.1 L1289.4,911.9 L1290.7,913.7 L1292.1,915.6 L1293.5,917.4 L1294.8,919.2 L1296.2,921.1 L1297.5,923.0 L1298.8,924.8 L1300.1,926.7 L1301.5,928.6 L1302.8,930.4 L1304.1,932.3 L1305.4,934.1 L1306.8,936.0 L1308.1,937.9 L1309.4,939.7 L1310.8,941.5 L1312.2,943.4 L1313.6,945.2 L1315.0,947.0 L1316.4,948.8 L1317.8,950.5 L1319.3,952.3 L1320.8,954.0 L1322.3,955.7 L1323.8,957.5 L1325.3,959.2 L1326.9,960.9 L1328.4,962.5 L1330.0,964.2 L1331.5,965.9 L1333.1,967.5 L1334.7,969.2 L1336.3,970.8 L1337.9,972.5 L1339.5,974.1 L1341.1,975.7 L1342.7,977.3 L1344.3,978.9 L1346.0,980.6 L1347.6,982.2 L1349.2,983.8 L1350.8,985.4 L1352.5,987.0 L1354.1,988.6 L1355.7,990.2 L1357.3,991.8 L1358.9,993.4 L1360.6,995.0 L1362.2,996.7 L1363.8,998.3 L1365.4,999.9 L1367.0,1001.5 L1368.6,1003.1 L1370.2,1004.8 L1371.9,1006.4 L1373.5,1008.0 L1375.1,1009.6 L1376.7,1011.2 L1378.3,1012.8 L1380.0,1014.4 L1381.6,1016.0 L1383.2,1017.6 L1384.8,1019.3 L1386.4,1020.9 L1388.1,1022.5 L1389.7,1024.1 L1391.3,1025.7 L1392.9,1027.4 L1394.5,1029.0 L1396.1,1030.6 L1397.7,1032.3 L1399.3,1033.9 L1400.8,1035.6 L1402.4,1037.3 L1403.9,1038.9 L1405.5,1040.6 L1407.0,1042.4 L1408.5,1044.1 L1410.0,1045.8 L1411.4,1047.6 L1412.9,1049.3 L1414.3,1051.1 L1415.7,1052.9 L1417.1,1054.8 L1418.4,1056.6 L1419.8,1058.5 L1421.1,1060.3 L1422.4,1062.2 L1423.6,1064.1 L1424.9,1066.1 L1426.1,1068.0 L1427.3,1069.9 L1428.5,1071.9 L1429.6,1073.9 L1430.8,1075.9 L1431.9,1077.8 L1433.0,1079.8 L1434.1,1081.9 L1435.2,1083.9 L1436.2,1085.9 L1437.2,1088.0 L1438.2,1090.0 L1439.2,1092.1 L1440.2,1094.2 L1441.1,1096.3 L1442.0,1098.3 L1442.9,1100.5 L1443.8,1102.6 L1444.6,1104.7 L1445.4,1106.8 L1446.2,1109.0 L1447.0,1111.1 L1447.8,1113.3 L1448.6,1115.4 L1449.3,1117.6 L1450.0,1119.7 L1450.8,1121.9 L1451.5,1124.1 L1452.2,1126.2 L1453.0,1128.4 L1453.7,1130.6 L1454.4,1132.8 L1455.1,1134.9 L1455.8,1137.1 L1456.5,1139.3 L1457.2,1141.5 L1457.8,1143.7 L1458.4,1145.9 L1459.0,1148.1 L1459.6,1150.3 L1460.1,1152.5 L1460.6,1154.7 L1461.1,1157.0 L1461.5,1159.2 L1461.9,1161.5 L1462.2,1163.7 L1462.6,1166.0 L1462.9,1168.2 L1463.2,1170.5 L1463.5,1172.8 L1463.7,1175.1 L1464.0,1177.3 L1464.2,1179.6 L1464.5,1181.9 L1464.7,1184.2 L1464.9,1186.4 L1465.2,1188.7 L1465.4,1191.0 L1465.6,1193.3 L1465.9,1195.6 L1466.1,1197.8 L1466.4,1200.1 L1466.6,1202.4 L1466.8,1204.7 L1467.1,1206.9 L1467.3,1209.2 L1467.5,1211.5 L1467.7,1213.7 L1468.0,1216.0 L1468.2,1218.3 L1468.4,1220.6 L1468.6,1222.8 L1468.8,1225.1 L1469.0,1227.4 L1469.2,1229.7 L1469.4,1231.9 L1469.6,1234.2 L1469.8,1236.5 L1470.0,1238.8 L1470.2,1241.0 L1470.3,1243.3 L1470.5,1245.6 L1470.7,1247.9 L1470.8,1250.2 L1471.0,1252.4 L1471.2,1254.7 L1471.3,1257.0 L1471.5,1259.3 L1471.6,1261.6 L1471.7,1263.9 L1471.9,1266.1 L1472.0,1268.4 L1472.1,1270.7 L1472.3,1273.0 L1472.4,1275.3 L1472.5,1277.5 L1472.7,1279.8 L1472.8,1282.1 L1472.9,1284.4 L1473.0,1286.7 L1473.1,1289.0 L1473.2,1291.2 L1473.4,1293.5 L1473.5,1295.8 L1473.6,1298.1 L1473.7,1300.4 L1473.8,1302.7 L1473.9,1304.9 L1474.0,1307.2 L1474.1,1309.5 L1474.2,1311.8 L1474.3,1314.1 L1474.4,1316.4 L1474.5,1318.6 L1474.6,1320.9 L1474.7,1323.2 L1474.7,1325.5 L1474.8,1327.8 L1474.9,1330.1 L1475.0,1332.3 L1475.1,1334.6 L1475.2,1336.9 L1475.3,1339.2 L1475.4,1341.5 L1475.4,1343.8 L1475.5,1346.0 L1475.6,1348.3 L1475.7,1350.6 L1475.8,1352.9 L1475.9,1355.2 L1475.9,1357.5 L1476.0,1359.7 L1476.1,1362.0 L1476.2,1364.3 L1476.2,1366.6 L1476.3,1368.9 L1476.4,1371.2 L1476.5,1373.5 L1476.5,1375.7 L1476.6,1378.0 L1476.7,1380.3 L1476.7,1382.6 L1476.8,1384.9 L1476.9,1387.2 L1476.9,1389.4 L1477.0,1391.7 L1477.1,1394.0 L1477.1,1396.3 L1477.2,1398.6 L1477.2,1400.9 L1477.3,1403.2 L1477.3,1405.4 L1477.4,1407.7 L1477.4,1410.0 L1477.5,1412.3 L1477.5,1414.6 L1477.6,1416.9 L1477.6,1419.1 L1477.7,1421.4 L1477.7,1423.7 L1477.8,1426.0 L1477.8,1428.3 L1477.8,1430.6 L1477.9,1432.9 L1477.9,1435.1 L1477.9,1437.4 L1478.0,1439.7 L1478.0,1442.0" fill="none" stroke="#FF8C00" stroke-width="3.5" stroke-linejoin="round" stroke-linecap="butt" />
<path d="M1238.5,818.0 L1240.4,821.0 L1242.4,823.8 L1244.5,826.5 L1246.8,829.0 L1249.3,831.5 L1251.8,833.8 L1254.5,836.1 L1257.2,838.2 L1260.0,840.3 L1262.9,842.3 L1265.8,844.3 L1268.7,846.2 L1271.6,848.0 L1274.6,849.9 L1277.6,851.7 L1280.6,853.5 L1283.5,855.2 L1286.5,856.9 L1289.6,858.6 L1292.6,860.3 L1295.6,862.0 L1298.7,863.6 L1301.7,865.3 L1304.8,866.9 L1307.8,868.5 L1310.9,870.1 L1314.0,871.7 L1317.1,873.2 L1320.2,874.8 L1323.3,876.3 L1326.4,877.9 L1329.5,879.4 L1332.6,880.9 L1335.7,882.4 L1338.9,883.8 L1342.0,885.3 L1345.2,886.7 L1348.4,888.1 L1351.5,889.5 L1354.7,891.0 L1357.8,892.4 L1361.0,893.8 L1364.1,895.2 L1367.3,896.7 L1370.4,898.1 L1373.6,899.6 L1376.7,901.1 L1379.8,902.6 L1383.0,904.1 L1386.1,905.6 L1389.2,907.1 L1392.3,908.6 L1395.5,910.1 L1398.6,911.6 L1401.7,913.1 L1404.8,914.6 L1408.0,916.0 L1411.1,917.5 L1414.2,919.0 L1417.4,920.4 L1420.5,921.9 L1423.7,923.3 L1426.8,924.7 L1430.0,926.1 L1433.2,927.6 L1436.3,929.0 L1439.5,930.4 L1442.7,931.8 L1445.8,933.2 L1449.0,934.6 L1452.2,936.0 L1455.3,937.4 L1458.5,938.8 L1461.7,940.2 L1464.8,941.7 L1468.0,943.1 L1471.1,944.5 L1474.3,946.0 L1477.4,947.4 L1480.6,948.8 L1483.7,950.3 L1486.9,951.7 L1490.0,953.1 L1493.2,954.6 L1496.3,956.0 L1499.5,957.5 L1502.7,958.9 L1505.8,960.3 L1509.0,961.7 L1512.1,963.1 L1515.3,964.5 L1518.5,965.9 L1521.7,967.3 L1524.8,968.7 L1528.0,970.1 L1531.2,971.4 L1534.4,972.8 L1537.6,974.1 L1540.8,975.4 L1544.0,976.7 L1547.3,978.0 L1550.5,979.2 L1553.7,980.5 L1556.9,981.7 L1560.2,982.9 L1563.4,984.2 L1566.7,985.4 L1569.9,986.6 L1573.2,987.8 L1576.4,988.9 L1579.7,990.1 L1583.0,991.3 L1586.2,992.4 L1589.5,993.6 L1592.8,994.7 L1596.0,995.9 L1599.3,997.0 L1602.6,998.1 L1605.9,999.2 L1609.1,1000.4 L1612.4,1001.5 L1615.7,1002.6 L1619.0,1003.7 L1622.3,1004.8 L1625.6,1005.9 L1628.9,1007.0 L1632.2,1008.0 L1635.4,1009.1 L1638.7,1010.2 L1642.0,1011.3 L1645.3,1012.4 L1648.6,1013.4 L1651.9,1014.5 L1655.2,1015.6 L1658.5,1016.7 L1661.8,1017.8 L1665.1,1018.9 L1668.4,1019.9 L1671.6,1021.1 L1674.9,1022.2 L1678.2,1023.3 L1681.5,1024.4 L1684.8,1025.5 L1688.0,1026.7 L1691.3,1027.8 L1694.6,1029.0 L1697.8,1030.1 L1701.1,1031.3 L1704.4,1032.4 L1707.6,1033.6 L1710.9,1034.8 L1714.1,1036.0 L1717.4,1037.2 L1720.6,1038.4 L1723.8,1039.7 L1727.1,1040.9 L1730.3,1042.2 L1733.5,1043.5 L1736.7,1044.7 L1740.0,1046.0 L1743.2,1047.4 L1746.4,1048.7 L1749.5,1050.1 L1752.7,1051.5 L1755.9,1052.9 L1759.1,1054.3 L1762.2,1055.7 L1765.3,1057.2 L1768.5,1058.7 L1771.6,1060.3 L1774.7,1061.8 L1777.8,1063.4 L1780.8,1065.0 L1783.9,1066.7 L1786.9,1068.4 L1789.9,1070.1 L1792.9,1071.8 L1795.9,1073.6 L1798.8,1075.5 L1801.7,1077.3 L1804.6,1079.3 L1807.5,1081.2 L1810.3,1083.2 L1813.1,1085.2 L1815.9,1087.3 L1818.7,1089.4 L1821.5,1091.5 L1824.2,1093.6 L1827.0,1095.7 L1829.7,1097.8 L1832.4,1100.0 L1835.1,1102.1 L1837.9,1104.2 L1840.6,1106.4 L1843.3,1108.5 L1846.0,1110.6 L1848.7,1112.8 L1851.4,1115.0 L1854.1,1117.1 L1856.8,1119.3 L1859.5,1121.6 L1862.2,1123.8 L1864.8,1126.1 L1867.4,1128.5 L1869.8,1130.9 L1872.2,1133.5 L1874.4,1136.1 L1876.4,1138.9 L1878.2,1141.9 L1879.8,1144.9 L1881.4,1148.0 L1882.8,1151.2 L1884.1,1154.5 L1885.3,1157.8 L1886.4,1161.1 L1887.5,1164.4 L1888.6,1167.7 L1889.6,1171.0 L1890.5,1174.3 L1891.4,1177.7 L1892.3,1181.0 L1893.2,1184.4 L1894.0,1187.7 L1894.8,1191.1 L1895.6,1194.4 L1896.3,1197.8 L1897.1,1201.2 L1897.8,1204.6 L1898.5,1208.0 L1899.3,1211.4 L1899.9,1214.8 L1900.6,1218.2 L1901.3,1221.6 L1901.9,1225.0 L1902.6,1228.4 L1903.2,1231.8 L1903.8,1235.2 L1904.4,1238.6 L1905.0,1242.0 L1905.6,1245.4 L1906.1,1248.9 L1906.7,1252.3 L1907.2,1255.7 L1907.8,1259.1 L1908.3,1262.6 L1908.8,1266.0 L1909.3,1269.4 L1909.8,1272.8 L1910.3,1276.3 L1910.8,1279.7 L1911.3,1283.1 L1911.8,1286.6 L1912.2,1290.0 L1912.7,1293.4 L1913.2,1296.9 L1913.6,1300.3 L1914.1,1303.7 L1914.5,1307.2 L1915.0,1310.6 L1915.4,1314.0 L1915.9,1317.5 L1916.3,1320.9 L1916.7,1324.3 L1917.1,1327.8 L1917.6,1331.2 L1918.0,1334.7 L1918.4,1338.1 L1918.8,1341.5 L1919.2,1345.0 L1919.6,1348.4 L1920.0,1351.9 L1920.4,1355.3 L1920.7,1358.8 L1921.1,1362.2 L1921.5,1365.6 L1921.8,1369.1 L1922.2,1372.5 L1922.6,1376.0 L1922.9,1379.4 L1923.2,1382.9 L1923.6,1386.3 L1923.9,1389.8 L1924.2,1393.2 L1924.5,1396.7 L1924.8,1400.1 L1925.1,1403.6 L1925.4,1407.0 L1925.7,1410.5 L1926.0,1413.9 L1926.3,1417.4 L1926.6,1420.9 L1926.8,1424.3 L1927.1,1427.8 L1927.3,1431.2 L1927.6,1434.7 L1927.8,1438.1 L1928.1,1441.6 L1928.3,1445.0 L1928.5,1448.5" fill="none" stroke="#FFD700" stroke-width="3.5" stroke-linejoin="round" stroke-linecap="butt" />
<line x1="1237.5" y1="1485.0" x2="1237.5" y2="1476.7" stroke="#666" stroke-width="1.5"/>
<line x1="1237.5" y1="803.3" x2="1237.5" y2="811.6" stroke="#666" stroke-width="1.5"/>
<line x1="1368.0" y1="1485.0" x2="1368.0" y2="1476.7" stroke="#666" stroke-width="1.5"/>
<line x1="1368.0" y1="803.3" x2="1368.0" y2="811.6" stroke="#666" stroke-width="1.5"/>
<line x1="1498.5" y1="1485.0" x2="1498.5" y2="1476.7" stroke="#666" stroke-width="1.5"/>
<line x1="1498.5" y1="803.3" x2="1498.5" y2="811.6" stroke="#666" stroke-width="1.5"/>
<line x1="1629.0" y1="1485.0" x2="1629.0" y2="1476.7" stroke="#666" stroke-width="1.5"/>
<line x1="1629.0" y1="803.3" x2="1629.0" y2="811.6" stroke="#666" stroke-width="1.5"/>
<line x1="1759.5" y1="1485.0" x2="1759.5" y2="1476.7" stroke="#666" stroke-width="1.5"/>
<line x1="1759.5" y1="803.3" x2="1759.5" y2="811.6" stroke="#666" stroke-width="1.5"/>
<line x1="1890.0" y1="1485.0" x2="1890.0" y2="1476.7" stroke="#666" stroke-width="1.5"/>
<line x1="1890.0" y1="803.3" x2="1890.0" y2="811.6" stroke="#666" stroke-width="1.5"/>
<line x1="2020.5" y1="1485.0" x2="2020.5" y2="1476.7" stroke="#666" stroke-width="1.5"/>
<line x1="2020.5" y1="803.3" x2="2020.5" y2="811.6" stroke="#666" stroke-width="1.5"/>
<line x1="1237.5" y1="803.3" x2="1245.8" y2="803.3" stroke="#666" stroke-width="1.5"/>
<line x1="2020.5" y1="803.3" x2="2012.2" y2="803.3" stroke="#666" stroke-width="1.5"/>
<line x1="1237.5" y1="888.5" x2="1245.8" y2="888.5" stroke="#666" stroke-width="1.5"/>
<line x1="2020.5" y1="888.5" x2="2012.2" y2="888.5" stroke="#666" stroke-width="1.5"/>
<line x1="1237.5" y1="973.7" x2="1245.8" y2="973.7" stroke="#666" stroke-width="1.5"/>
<line x1="2020.5" y1="973.7" x2="2012.2" y2="973.7" stroke="#666" stroke-width="1.5"/>
<line x1="1237.5" y1="1059.0" x2="1245.8" y2="1059.0" stroke="#666" stroke-width="1.5"/>
<line x1="2020.5" y1="1059.0" x2="2012.2" y2="1059.0" stroke="#666" stroke-width="1.5"/>
<line x1="1237.5" y1="1144.2" x2="1245.8" y2="1144.2" stroke="#666" stroke-width="1.5"/>
<line x1="2020.5" y1="1144.2" x2="2012.2" y2="1144.2" stroke="#666" stroke-width="1.5"/>
<line x1="1237.5" y1="1229.4" x2="1245.8" y2="1229.4" stroke="#666" stroke-width="1.5"/>
<line x1="2020.5" y1="1229.4" x2="2012.2" y2="1229.4" stroke="#666" stroke-width="1.5"/>
<line x1="1237.5" y1="1314.6" x2="1245.8" y2="1314.6" stroke="#666" stroke-width="1.5"/>
<line x1="2020.5" y1="1314.6" x2="2012.2" y2="1314.6" stroke="#666" stroke-width="1.5"/>
<line x1="1237.5" y1="1399.8" x2="1245.8" y2="1399.8" stroke="#666" stroke-width="1.5"/>
<line x1="2020.5" y1="1399.8" x2="2012.2" y2="1399.8" stroke="#666" stroke-width="1.5"/>
<rect x="1237.5" y="803.3" width="783.0" height="681.7" fill="none" stroke="#666" stroke-width="1.4"/>
<text x="1237.5" y="1528.5" font-size="33.2" text-anchor="middle" fill="#262626" >0</text>
<text x="1368.0" y="1528.5" font-size="33.2" text-anchor="middle" fill="#262626" >0.2</text>
<text x="1498.5" y="1528.5" font-size="33.2" text-anchor="middle" fill="#262626" >0.4</text>
<text x="1629.0" y="1528.5" font-size="33.2" text-anchor="middle" fill="#262626" >0.6</text>
<text x="1759.5" y="1528.5" font-size="33.2" text-anchor="middle" fill="#262626" >0.8</text>
<text x="1890.0" y="1528.5" font-size="33.2" text-anchor="middle" fill="#262626" >1</text>
<text x="2020.5" y="1528.5" font-size="33.2" text-anchor="middle" fill="#262626" >1<tspan dx="-2.5">.2</tspan></text>
<text x="1226.0" y="817.3" font-size="33.2" text-anchor="end" fill="#262626" >4.00</text>
<text x="1226.0" y="902.5" font-size="33.2" text-anchor="end" fill="#262626" >3.80</text>
<text x="1226.0" y="987.7" font-size="33.2" text-anchor="end" fill="#262626" >3.60</text>
<text x="1226.0" y="1073.0" font-size="33.2" text-anchor="end" fill="#262626" >3.40</text>
<text x="1226.0" y="1158.2" font-size="33.2" text-anchor="end" fill="#262626" >3.20</text>
<text x="1226.0" y="1243.4" font-size="33.2" text-anchor="end" fill="#262626" >3.00</text>
<text x="1226.0" y="1328.6" font-size="33.2" text-anchor="end" fill="#262626" >2.80</text>
<text x="1226.0" y="1413.8" font-size="33.2" text-anchor="end" fill="#262626" >2.60</text>
<text x="1407.3" y="1573.9" font-size="33.6" fill="#262626" xml:space="preserve">Parallel stack capacity, <tspan font-style="italic">Q</tspan> [Ah]</text>
<text x="1149.2" y="1346.8" font-size="33.35" transform="rotate(-90 1149.2 1346.8)" fill="#262626" xml:space="preserve">Parallel stack voltage, <tspan font-style="italic">V</tspan> [V]</text>
<text x="1044.3" y="850.0" font-size="52" font-weight="bold" fill="#000" >(d)</text>
<rect x="1571.6" y="818.4" width="434.4" height="145.4" fill="#fff" stroke="#626262" stroke-width="1.3"/>
<line x1="1571.6" y1="857.3" x2="2006" y2="857.3" stroke="#626262" stroke-width="1.3"/>
<text x="1788.6" y="848.2" font-size="25.7" text-anchor="middle" font-weight="bold" fill="#000" >Experimental data from S. Ito et al.</text>
<line x1="1584.9" y1="876.7" x2="1639.6" y2="876.7" stroke="#8B0000" stroke-width="2.9"/>
<text x="1645.1" y="886.4" font-size="25.7" fill="#000" >single-cell</text>
<line x1="1584.9" y1="911.1" x2="1639.6" y2="911.1" stroke="#FF8C00" stroke-width="2.9"/>
<text x="1645.1" y="920.8" font-size="25.7" fill="#000" >double-coated single-cell</text>
<line x1="1584.9" y1="944.0" x2="1639.6" y2="944.0" stroke="#FFD700" stroke-width="2.9"/>
<text x="1645.1" y="953.7" font-size="25.7" fill="#000" >Three-layers parallel cell stack</text>
</svg></body></html>
